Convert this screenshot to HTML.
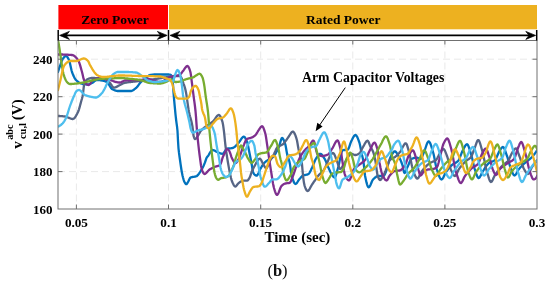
<!DOCTYPE html>
<html><head><meta charset="utf-8"><title>Arm Capacitor Voltages</title>
<style>html,body{margin:0;padding:0;background:#fff;}body{width:550px;height:284px;overflow:hidden;position:relative;font-family:"Liberation Serif",serif;}</style></head>
<body>
<svg width="550" height="284" viewBox="0 0 550 284" style="position:absolute;left:0;top:0;filter:blur(0.45px)">
<defs><clipPath id="pc"><rect x="58" y="40.5" width="479" height="168.5"/></clipPath></defs>
<rect x="58.4" y="5" width="109.6" height="24.3" fill="#ff0000"/>
<rect x="169" y="5" width="368" height="24.3" fill="#edb120"/>
<line x1="76.4" y1="40.5" x2="76.4" y2="209" stroke="#e9e9e9" stroke-width="1" stroke-dasharray="7,4"/>
<line x1="168.5" y1="40.5" x2="168.5" y2="209" stroke="#e9e9e9" stroke-width="1" stroke-dasharray="7,4"/>
<line x1="260.7" y1="40.5" x2="260.7" y2="209" stroke="#e9e9e9" stroke-width="1" stroke-dasharray="7,4"/>
<line x1="352.8" y1="40.5" x2="352.8" y2="209" stroke="#e9e9e9" stroke-width="1" stroke-dasharray="7,4"/>
<line x1="444.9" y1="40.5" x2="444.9" y2="209" stroke="#e9e9e9" stroke-width="1" stroke-dasharray="7,4"/>
<line x1="58" y1="171.6" x2="537" y2="171.6" stroke="#e9e9e9" stroke-width="1" stroke-dasharray="7,4"/>
<line x1="58" y1="134.1" x2="537" y2="134.1" stroke="#e9e9e9" stroke-width="1" stroke-dasharray="7,4"/>
<line x1="58" y1="96.7" x2="537" y2="96.7" stroke="#e9e9e9" stroke-width="1" stroke-dasharray="7,4"/>
<line x1="58" y1="59.2" x2="537" y2="59.2" stroke="#e9e9e9" stroke-width="1" stroke-dasharray="7,4"/>
<g clip-path="url(#pc)" fill="none" stroke-width="2.3" stroke-linejoin="round" stroke-linecap="round">
<path d="M58.0,72.0 L58.5,70.4 L59.0,68.9 L59.5,67.4 L60.0,66.0 L60.5,64.6 L61.0,63.1 L61.5,61.7 L62.0,60.4 L62.5,59.3 L63.0,58.5 L63.5,57.9 L64.0,57.3 L64.5,56.8 L65.0,56.4 L65.5,56.1 L66.0,56.0 L66.5,56.2 L67.0,56.6 L67.5,57.2 L68.0,58.1 L68.5,59.0 L69.0,60.0 L69.5,61.4 L70.0,63.4 L70.5,65.7 L71.0,68.1 L71.5,70.3 L72.0,72.0 L72.5,73.3 L73.0,74.6 L73.5,75.7 L74.0,76.8 L74.5,77.8 L75.0,78.6 L75.5,79.4 L76.0,80.0 L76.5,80.5 L77.0,81.0 L77.5,81.5 L78.0,81.8 L78.5,82.2 L79.0,82.5 L79.5,82.8 L80.0,83.0 L80.5,83.2 L81.0,83.4 L81.5,83.5 L82.0,83.7 L82.5,83.8 L83.0,84.0 L83.5,84.1 L84.0,84.2 L84.5,84.2 L85.0,84.3 L85.5,84.3 L86.0,84.4 L86.5,84.4 L87.0,84.5 L87.5,84.5 L88.0,84.5 L88.5,84.5 L89.0,84.4 L89.5,84.2 L90.0,84.0 L90.5,83.7 L91.0,83.5 L91.5,83.2 L92.0,83.0 L92.5,82.7 L93.0,82.4 L93.5,82.0 L94.0,81.6 L94.5,81.2 L95.0,80.8 L95.5,80.5 L96.0,80.2 L96.5,80.1 L97.0,80.0 L97.5,80.0 L98.0,80.0 L98.5,80.1 L99.0,80.1 L99.5,80.2 L100.0,80.2 L100.5,80.3 L101.0,80.4 L101.5,80.4 L102.0,80.5 L102.5,80.6 L103.0,80.7 L103.5,80.8 L104.0,80.9 L104.5,81.0 L105.0,81.2 L105.5,81.4 L106.0,81.6 L106.5,81.8 L107.0,82.0 L107.5,82.4 L108.0,83.0 L108.5,83.7 L109.0,84.6 L109.5,85.5 L110.0,86.4 L110.5,87.2 L111.0,88.0 L111.5,88.6 L112.0,89.0 L112.5,89.3 L113.0,89.5 L113.5,89.8 L114.0,90.0 L114.5,90.2 L115.0,90.4 L115.5,90.6 L116.0,90.7 L116.5,90.8 L117.0,90.9 L117.5,91.0 L118.0,91.0 L118.5,91.0 L119.0,91.0 L119.5,91.0 L120.0,91.0 L120.5,91.0 L121.0,91.0 L121.5,91.0 L122.0,91.0 L122.5,91.0 L123.0,91.0 L123.5,91.0 L124.0,91.0 L124.5,91.0 L125.0,91.0 L125.5,91.0 L126.0,91.0 L126.5,91.0 L127.0,91.0 L127.5,91.0 L128.0,91.0 L128.5,91.0 L129.0,91.0 L129.5,91.0 L130.0,91.0 L130.5,91.0 L131.0,91.0 L131.5,91.0 L132.0,90.8 L132.5,90.6 L133.0,90.3 L133.5,90.0 L134.0,89.6 L134.5,89.2 L135.0,88.8 L135.5,88.4 L136.0,88.0 L136.5,87.6 L137.0,87.0 L137.5,86.4 L138.0,85.8 L138.5,85.1 L139.0,84.4 L139.5,83.7 L140.0,83.1 L140.5,82.5 L141.0,82.0 L141.5,81.5 L142.0,81.1 L142.5,80.7 L143.0,80.3 L143.5,79.9 L144.0,79.5 L144.5,79.1 L145.0,78.8 L145.5,78.4 L146.0,78.0 L146.5,77.6 L147.0,77.1 L147.5,76.7 L148.0,76.2 L148.5,75.8 L149.0,75.4 L149.5,75.2 L150.0,75.0 L150.5,74.9 L151.0,74.8 L151.5,74.8 L152.0,74.7 L152.5,74.6 L153.0,74.6 L153.5,74.6 L154.0,74.5 L154.5,74.5 L155.0,74.5 L155.5,74.5 L156.0,74.5 L156.5,74.5 L157.0,74.5 L157.5,74.5 L158.0,74.5 L158.5,74.5 L159.0,74.5 L159.5,74.5 L160.0,74.5 L160.5,74.5 L161.0,74.5 L161.5,74.5 L162.0,74.5 L162.5,74.5 L163.0,74.5 L163.5,74.5 L164.0,74.5 L164.5,74.5 L165.0,74.5 L165.5,74.5 L166.0,74.5 L166.5,74.5 L167.0,74.5 L167.5,74.5 L168.0,74.5 L168.5,74.5 L169.0,74.6 L169.5,74.6 L170.0,74.7 L170.5,74.8 L171.0,75.0 L171.5,75.8 L172.0,77.6 L172.5,80.0 L173.0,84.9 L173.5,92.1 L174.0,98.3 L174.5,103.8 L175.0,109.2 L175.5,114.3 L176.0,119.0 L176.5,122.8 L177.0,126.3 L177.5,131.0 L178.0,140.7 L178.5,148.3 L179.0,152.9 L179.5,156.5 L180.0,160.0 L180.5,163.6 L181.0,167.0 L181.5,170.2 L182.0,173.1 L182.5,175.5 L183.0,177.5 L183.5,179.3 L184.0,180.9 L184.5,182.0 L185.0,182.9 L185.5,183.7 L186.0,184.2 L186.5,184.1 L187.0,183.6 L187.5,182.8 L188.0,182.0 L188.5,181.1 L189.0,180.0 L189.5,179.0 L190.0,178.1 L190.5,177.6 L191.0,177.4 L191.5,177.2 L192.0,177.1 L192.5,177.0 L193.0,176.9 L193.5,176.9 L194.0,176.8 L194.5,176.7 L195.0,176.6 L195.5,176.5 L196.0,176.3 L196.5,176.2 L197.0,175.9 L197.5,175.4 L198.0,174.9 L198.5,174.3 L199.0,173.6 L199.5,172.8 L200.0,172.1 L200.5,171.3 L201.0,170.5 L201.5,169.7 L202.0,168.8 L202.5,167.9 L203.0,166.9 L203.5,165.9 L204.0,164.8 L204.5,163.6 L205.0,162.4 L205.5,160.9 L206.0,159.3 L206.5,158.0 L207.0,157.2 L207.5,156.6 L208.0,156.0 L208.5,155.3 L209.0,154.4 L209.5,153.5 L210.0,152.6 L210.5,151.8 L211.0,151.0 L211.5,150.5 L212.0,150.1 L212.5,150.0 L213.0,150.1 L213.5,150.2 L214.0,150.4 L214.5,150.6 L215.0,150.8 L215.5,151.1 L216.0,151.4 L216.5,151.7 L217.0,152.0 L217.5,152.2 L218.0,152.4 L218.5,152.6 L219.0,152.8 L219.5,153.0 L220.0,153.2 L220.5,153.4 L221.0,153.6 L221.5,153.7 L222.0,153.8 L222.5,153.8 L223.0,153.6 L223.5,153.2 L224.0,152.6 L224.5,151.8 L225.0,151.0 L225.5,150.2 L226.0,149.5 L226.5,149.0 L227.0,148.7 L227.5,148.6 L228.0,148.5 L228.5,148.5 L229.0,148.4 L229.5,148.4 L230.0,148.3 L230.5,148.3 L231.0,148.3 L231.5,148.2 L232.0,148.1 L232.5,148.0 L233.0,147.9 L233.5,147.7 L234.0,147.3 L234.5,147.0 L235.0,146.6 L235.5,146.1 L236.0,145.7 L236.5,145.1 L237.0,144.6 L237.5,144.0 L238.0,143.5 L238.5,142.9 L239.0,142.4 L239.5,141.7 L240.0,141.0 L240.5,140.2 L241.0,139.4 L241.5,138.6 L242.0,138.0 L242.5,137.4 L243.0,137.0 L243.5,136.7 L244.0,136.7 L244.5,137.0 L245.0,137.6 L245.5,138.4 L246.0,139.4 L246.5,140.5 L247.0,141.7 L247.5,143.3 L248.0,145.4 L248.5,147.9 L249.0,150.5 L249.5,153.0 L250.0,155.4 L250.5,158.0 L251.0,160.6 L251.5,163.2 L252.0,166.0 L252.5,169.2 L253.0,171.8 L253.5,173.2 L254.0,173.9 L254.5,174.5 L255.0,175.0 L255.5,175.3 L256.0,175.6 L256.5,175.7 L257.0,175.6 L257.5,175.0 L258.0,174.2 L258.5,173.2 L259.0,172.0 L259.5,170.8 L260.0,169.7 L260.5,168.6 L261.0,167.8 L261.5,167.0 L262.0,166.2 L262.5,165.3 L263.0,164.6 L263.5,163.9 L264.0,163.2 L264.5,162.7 L265.0,162.2 L265.5,161.8 L266.0,161.4 L266.5,161.0 L267.0,160.7 L267.5,160.3 L268.0,160.0 L268.5,159.7 L269.0,159.4 L269.5,159.1 L270.0,158.9 L270.5,158.6 L271.0,158.4 L271.5,158.1 L272.0,157.8 L272.5,157.4 L273.0,156.9 L273.5,156.4 L274.0,155.8 L274.5,155.1 L275.0,154.4 L275.5,153.6 L276.0,152.7 L276.5,151.8 L277.0,150.9 L277.5,149.9 L278.0,148.9 L278.5,147.8 L279.0,146.8 L279.5,145.3 L280.0,143.5 L280.5,141.6 L281.0,139.9 L281.5,138.6 L282.0,138.0 L282.5,138.1 L283.0,138.7 L283.5,139.6 L284.0,140.7 L284.5,142.0 L285.0,143.5 L285.5,145.1 L286.0,147.7 L286.5,150.7 L287.0,153.6 L287.5,155.6 L288.0,157.2 L288.5,158.6 L289.0,160.1 L289.5,161.9 L290.0,164.4 L290.5,168.1 L291.0,172.1 L291.5,175.1 L292.0,176.9 L292.5,178.5 L293.0,180.0 L293.5,181.3 L294.0,182.4 L294.5,183.3 L295.0,183.8 L295.5,184.0 L296.0,183.8 L296.5,183.4 L297.0,182.8 L297.5,182.0 L298.0,181.2 L298.5,180.4 L299.0,179.7 L299.5,179.1 L300.0,178.5 L300.5,177.9 L301.0,177.2 L301.5,176.7 L302.0,176.2 L302.5,175.8 L303.0,175.5 L303.5,175.3 L304.0,175.2 L304.5,175.1 L305.0,175.0 L305.5,174.9 L306.0,174.8 L306.5,174.7 L307.0,174.6 L307.5,174.5 L308.0,174.3 L308.5,174.0 L309.0,173.5 L309.5,172.8 L310.0,171.9 L310.5,170.9 L311.0,169.9 L311.5,168.8 L312.0,167.8 L312.5,166.7 L313.0,165.5 L313.5,164.3 L314.0,163.0 L314.5,161.7 L315.0,160.5 L315.5,159.5 L316.0,158.7 L316.5,157.9 L317.0,157.1 L317.5,156.3 L318.0,155.6 L318.5,155.0 L319.0,154.4 L319.5,154.1 L320.0,153.8 L320.5,153.8 L321.0,154.0 L321.5,154.4 L322.0,154.9 L322.5,155.5 L323.0,156.3 L323.5,157.0 L324.0,157.9 L324.5,158.7 L325.0,159.5 L325.5,160.5 L326.0,161.6 L326.5,162.9 L327.0,164.2 L327.5,165.4 L328.0,166.7 L328.5,167.8 L329.0,168.9 L329.5,170.0 L330.0,171.1 L330.5,172.2 L331.0,173.2 L331.5,174.1 L332.0,175.0 L332.5,175.6 L333.0,176.3 L333.5,176.9 L334.0,177.3 L334.5,177.5 L335.0,177.2 L335.5,176.3 L336.0,174.9 L336.5,173.3 L337.0,171.5 L337.5,169.7 L338.0,168.0 L338.5,166.2 L339.0,164.0 L339.5,161.5 L340.0,159.0 L340.5,156.5 L341.0,154.3 L341.5,152.4 L342.0,151.0 L342.5,150.3 L343.0,150.2 L343.5,150.1 L344.0,150.0 L344.5,150.0 L345.0,150.0 L345.5,149.9 L346.0,149.9 L346.5,149.8 L347.0,149.8 L347.5,149.7 L348.0,149.4 L348.5,148.7 L349.0,147.6 L349.5,146.2 L350.0,144.7 L350.5,143.2 L351.0,141.8 L351.5,140.7 L352.0,139.8 L352.5,138.8 L353.0,137.8 L353.5,136.9 L354.0,136.1 L354.5,135.5 L355.0,135.1 L355.5,135.0 L356.0,135.3 L356.5,135.8 L357.0,136.6 L357.5,137.6 L358.0,138.8 L358.5,140.1 L359.0,141.5 L359.5,142.9 L360.0,145.0 L360.5,147.4 L361.0,150.0 L361.5,152.5 L362.0,154.9 L362.5,157.0 L363.0,159.3 L363.5,162.1 L364.0,166.1 L364.5,171.5 L365.0,175.5 L365.5,178.0 L366.0,180.3 L366.5,182.4 L367.0,184.3 L367.5,185.7 L368.0,186.7 L368.5,187.3 L369.0,187.2 L369.5,186.7 L370.0,185.9 L370.5,184.9 L371.0,183.7 L371.5,182.5 L372.0,181.3 L372.5,180.3 L373.0,179.5 L373.5,179.0 L374.0,178.5 L374.5,178.1 L375.0,177.6 L375.5,177.2 L376.0,176.9 L376.5,176.5 L377.0,176.3 L377.5,176.1 L378.0,176.0 L378.5,176.0 L379.0,176.0 L379.5,176.0 L380.0,176.0 L380.5,176.0 L381.0,176.0 L381.5,176.0 L382.0,176.0 L382.5,176.0 L383.0,176.0 L383.5,176.0 L384.0,175.7 L384.5,174.9 L385.0,173.9 L385.5,172.8 L386.0,171.6 L386.5,170.2 L387.0,168.3 L387.5,166.3 L388.0,164.4 L388.5,162.7 L389.0,161.2 L389.5,159.8 L390.0,158.5 L390.5,157.2 L391.0,156.1 L391.5,155.2 L392.0,154.4 L392.5,153.6 L393.0,152.8 L393.5,152.1 L394.0,151.6 L394.5,151.4 L395.0,151.3 L395.5,151.6 L396.0,152.1 L396.5,152.7 L397.0,153.5 L397.5,154.4 L398.0,155.3 L398.5,156.2 L399.0,157.1 L399.5,158.0 L400.0,159.0 L400.5,160.1 L401.0,161.3 L401.5,162.5 L402.0,163.9 L402.5,165.3 L403.0,167.3 L403.5,169.9 L404.0,172.1 L404.5,173.0 L405.0,172.7 L405.5,171.9 L406.0,170.8 L406.5,169.5 L407.0,168.2 L407.5,166.9 L408.0,165.9 L408.5,164.7 L409.0,163.5 L409.5,162.3 L410.0,161.1 L410.5,160.2 L411.0,159.4 L411.5,159.0 L412.0,158.8 L412.5,158.5 L413.0,158.3 L413.5,158.2 L414.0,158.0 L414.5,157.9 L415.0,157.8 L415.5,157.7 L416.0,157.6 L416.5,157.6 L417.0,157.6 L417.5,157.8 L418.0,158.0 L418.5,158.3 L419.0,158.5 L419.5,158.8 L420.0,158.9 L420.5,159.0 L421.0,158.7 L421.5,158.0 L422.0,157.0 L422.5,155.8 L423.0,154.5 L423.5,153.2 L424.0,152.0 L424.5,150.8 L425.0,149.5 L425.5,148.0 L426.0,146.5 L426.5,145.0 L427.0,143.7 L427.5,142.6 L428.0,141.8 L428.5,141.4 L429.0,141.5 L429.5,142.0 L430.0,142.8 L430.5,144.0 L431.0,145.4 L431.5,147.0 L432.0,148.7 L432.5,150.4 L433.0,152.0 L433.5,153.8 L434.0,156.1 L434.5,158.6 L435.0,161.2 L435.5,163.7 L436.0,166.2 L436.5,168.3 L437.0,170.0 L437.5,171.5 L438.0,172.9 L438.5,174.4 L439.0,175.7 L439.5,177.0 L440.0,178.0 L440.5,178.8 L441.0,179.3 L441.5,179.5 L442.0,179.3 L442.5,178.8 L443.0,178.0 L443.5,177.1 L444.0,176.0 L444.5,174.9 L445.0,173.8 L445.5,172.8 L446.0,172.0 L446.5,171.3 L447.0,170.6 L447.5,170.0 L448.0,169.3 L448.5,168.7 L449.0,168.1 L449.5,167.5 L450.0,167.0 L450.5,166.4 L451.0,165.9 L451.5,165.4 L452.0,165.0 L452.5,164.6 L453.0,164.3 L453.5,164.0 L454.0,163.7 L454.5,163.4 L455.0,163.1 L455.5,162.9 L456.0,162.6 L456.5,162.3 L457.0,161.9 L457.5,161.5 L458.0,161.0 L458.5,160.3 L459.0,159.5 L459.5,158.4 L460.0,157.2 L460.5,155.9 L461.0,154.6 L461.5,153.3 L462.0,152.1 L462.5,151.0 L463.0,150.0 L463.5,149.1 L464.0,148.1 L464.5,147.1 L465.0,146.2 L465.5,145.4 L466.0,144.8 L466.5,144.4 L467.0,144.2 L467.5,144.5 L468.0,145.2 L468.5,146.2 L469.0,147.6 L469.5,149.1 L470.0,150.8 L470.5,152.4 L471.0,154.0 L471.5,155.7 L472.0,157.7 L472.5,159.8 L473.0,162.1 L473.5,164.3 L474.0,166.5 L474.5,168.4 L475.0,170.0 L475.5,171.5 L476.0,173.0 L476.5,174.5 L477.0,175.8 L477.5,176.9 L478.0,177.6 L478.5,178.0 L479.0,177.9 L479.5,177.5 L480.0,176.8 L480.5,175.9 L481.0,174.9 L481.5,173.8 L482.0,172.8 L482.5,171.8 L483.0,171.0 L483.5,170.3 L484.0,169.5 L484.5,168.7 L485.0,168.0 L485.5,167.2 L486.0,166.5 L486.5,165.7 L487.0,165.1 L487.5,164.5 L488.0,163.9 L488.5,163.4 L489.0,163.0 L489.5,162.7 L490.0,162.4 L490.5,162.1 L491.0,161.9 L491.5,161.8 L492.0,161.6 L492.5,161.4 L493.0,161.2 L493.5,161.0 L494.0,160.7 L494.5,160.4 L495.0,160.0 L495.5,159.4 L496.0,158.6 L496.5,157.6 L497.0,156.4 L497.5,155.2 L498.0,154.0 L498.5,152.9 L499.0,151.8 L499.5,151.0 L500.0,150.3 L500.5,149.5 L501.0,148.7 L501.5,148.0 L502.0,147.5 L502.5,147.1 L503.0,147.0 L503.5,147.2 L504.0,147.9 L504.5,148.9 L505.0,150.2 L505.5,151.6 L506.0,153.1 L506.5,154.6 L507.0,156.0 L507.5,157.4 L508.0,159.1 L508.5,160.8 L509.0,162.7 L509.5,164.4 L510.0,166.1 L510.5,167.7 L511.0,169.0 L511.5,170.2 L512.0,171.5 L512.5,172.7 L513.0,173.8 L513.5,174.7 L514.0,175.3 L514.5,175.5 L515.0,175.3 L515.5,174.9 L516.0,174.2 L516.5,173.4 L517.0,172.4 L517.5,171.5 L518.0,170.5 L518.5,169.7 L519.0,169.0 L519.5,168.4 L520.0,167.8 L520.5,167.3 L521.0,166.8 L521.5,166.2 L522.0,165.7 L522.5,165.2 L523.0,164.7 L523.5,164.3 L524.0,163.8 L524.5,163.3 L525.0,162.9 L525.5,162.4 L526.0,162.0 L526.5,161.6 L527.0,161.2 L527.5,160.8 L528.0,160.4 L528.5,160.1 L529.0,159.7 L529.5,159.3 L530.0,158.9 L530.5,158.5 L531.0,158.0 L531.5,157.5 L532.0,157.0 L532.5,156.4 L533.0,155.8 L533.5,155.2 L534.0,154.6 L534.5,154.0 L535.0,153.3 L535.5,152.6 L536.0,151.9 L536.5,151.1 L537.0,150.4 L537.5,149.6" stroke="#0072BD"/>
<path d="M58.0,116.0 L58.5,116.0 L59.0,116.0 L59.5,116.0 L60.0,116.1 L60.5,116.1 L61.0,116.1 L61.5,116.1 L62.0,116.2 L62.5,116.2 L63.0,116.3 L63.5,116.3 L64.0,116.4 L64.5,116.4 L65.0,116.5 L65.5,116.6 L66.0,116.7 L66.5,116.9 L67.0,117.0 L67.5,117.2 L68.0,117.5 L68.5,117.7 L69.0,117.9 L69.5,118.1 L70.0,118.3 L70.5,118.5 L71.0,118.7 L71.5,118.8 L72.0,118.9 L72.5,119.0 L73.0,119.0 L73.5,118.8 L74.0,118.5 L74.5,118.0 L75.0,117.4 L75.5,116.6 L76.0,115.8 L76.5,114.9 L77.0,114.0 L77.5,113.0 L78.0,112.0 L78.5,110.8 L79.0,109.3 L79.5,107.6 L80.0,105.8 L80.5,103.9 L81.0,102.0 L81.5,100.3 L82.0,98.5 L82.5,96.5 L83.0,94.0 L83.5,89.2 L84.0,85.0 L84.5,83.6 L85.0,82.5 L85.5,81.5 L86.0,80.7 L86.5,80.1 L87.0,79.6 L87.5,79.3 L88.0,79.0 L88.5,78.8 L89.0,78.6 L89.5,78.4 L90.0,78.3 L90.5,78.2 L91.0,78.1 L91.5,78.0 L92.0,78.0 L92.5,78.0 L93.0,78.0 L93.5,78.0 L94.0,78.0 L94.5,78.0 L95.0,78.1 L95.5,78.1 L96.0,78.1 L96.5,78.1 L97.0,78.1 L97.5,78.2 L98.0,78.2 L98.5,78.2 L99.0,78.3 L99.5,78.3 L100.0,78.4 L100.5,78.4 L101.0,78.5 L101.5,78.5 L102.0,78.6 L102.5,78.6 L103.0,78.7 L103.5,78.8 L104.0,78.8 L104.5,78.9 L105.0,79.0 L105.5,79.1 L106.0,79.4 L106.5,79.7 L107.0,80.1 L107.5,80.5 L108.0,81.0 L108.5,81.5 L109.0,82.0 L109.5,82.5 L110.0,83.0 L110.5,83.6 L111.0,84.3 L111.5,85.0 L112.0,85.8 L112.5,86.5 L113.0,87.1 L113.5,87.5 L114.0,87.6 L114.5,87.6 L115.0,87.5 L115.5,87.3 L116.0,87.1 L116.5,86.9 L117.0,86.6 L117.5,86.4 L118.0,86.1 L118.5,85.8 L119.0,85.5 L119.5,85.2 L120.0,85.0 L120.5,84.7 L121.0,84.5 L121.5,84.2 L122.0,83.9 L122.5,83.6 L123.0,83.4 L123.5,83.2 L124.0,83.0 L124.5,82.9 L125.0,82.8 L125.5,82.7 L126.0,82.6 L126.5,82.5 L127.0,82.4 L127.5,82.3 L128.0,82.3 L128.5,82.2 L129.0,82.1 L129.5,82.1 L130.0,82.0 L130.5,82.0 L131.0,81.9 L131.5,81.9 L132.0,81.8 L132.5,81.8 L133.0,81.7 L133.5,81.7 L134.0,81.6 L134.5,81.6 L135.0,81.5 L135.5,81.4 L136.0,81.4 L136.5,81.3 L137.0,81.3 L137.5,81.2 L138.0,81.2 L138.5,81.1 L139.0,81.1 L139.5,81.0 L140.0,81.0 L140.5,81.0 L141.0,80.9 L141.5,80.9 L142.0,80.8 L142.5,80.8 L143.0,80.7 L143.5,80.7 L144.0,80.6 L144.5,80.6 L145.0,80.5 L145.5,80.4 L146.0,80.4 L146.5,80.3 L147.0,80.3 L147.5,80.2 L148.0,80.1 L148.5,80.1 L149.0,80.0 L149.5,79.9 L150.0,79.8 L150.5,79.8 L151.0,79.7 L151.5,79.6 L152.0,79.5 L152.5,79.5 L153.0,79.4 L153.5,79.3 L154.0,79.2 L154.5,79.2 L155.0,79.1 L155.5,79.0 L156.0,78.9 L156.5,78.8 L157.0,78.8 L157.5,78.7 L158.0,78.6 L158.5,78.5 L159.0,78.4 L159.5,78.3 L160.0,78.3 L160.5,78.2 L161.0,78.1 L161.5,78.0 L162.0,77.9 L162.5,77.9 L163.0,77.8 L163.5,77.7 L164.0,77.6 L164.5,77.5 L165.0,77.5 L165.5,77.4 L166.0,77.3 L166.5,77.2 L167.0,77.1 L167.5,77.1 L168.0,77.0 L168.5,76.9 L169.0,76.8 L169.5,76.7 L170.0,76.7 L170.5,76.6 L171.0,76.5 L171.5,76.4 L172.0,76.3 L172.5,76.2 L173.0,76.1 L173.5,76.1 L174.0,76.0 L174.5,76.0 L175.0,76.0 L175.5,76.0 L176.0,76.0 L176.5,76.0 L177.0,76.0 L177.5,76.0 L178.0,76.0 L178.5,76.0 L179.0,76.0 L179.5,76.0 L180.0,76.0 L180.5,76.2 L181.0,76.9 L181.5,77.9 L182.0,79.1 L182.5,80.5 L183.0,82.0 L183.5,83.6 L184.0,85.0 L184.5,86.4 L185.0,88.1 L185.5,90.0 L186.0,92.4 L186.5,95.4 L187.0,98.8 L187.5,102.4 L188.0,105.9 L188.5,109.2 L189.0,112.0 L189.5,114.3 L190.0,116.3 L190.5,118.1 L191.0,119.9 L191.5,121.9 L192.0,124.1 L192.5,126.8 L193.0,130.9 L193.5,135.6 L194.0,137.3 L194.5,138.6 L195.0,139.0 L195.5,138.9 L196.0,138.5 L196.5,137.9 L197.0,137.2 L197.5,136.5 L198.0,135.6 L198.5,134.8 L199.0,134.0 L199.5,133.1 L200.0,132.2 L200.5,131.3 L201.0,130.6 L201.5,130.1 L202.0,129.6 L202.5,129.1 L203.0,128.7 L203.5,128.3 L204.0,127.9 L204.5,127.5 L205.0,127.1 L205.5,126.8 L206.0,126.4 L206.5,126.1 L207.0,125.7 L207.5,125.4 L208.0,125.1 L208.5,124.8 L209.0,124.4 L209.5,124.1 L210.0,123.7 L210.5,123.4 L211.0,123.0 L211.5,122.6 L212.0,122.3 L212.5,121.8 L213.0,121.4 L213.5,120.9 L214.0,120.3 L214.5,119.6 L215.0,118.9 L215.5,118.1 L216.0,117.4 L216.5,116.7 L217.0,116.1 L217.5,115.6 L218.0,115.2 L218.5,115.0 L219.0,115.0 L219.5,115.3 L220.0,115.9 L220.5,116.7 L221.0,117.8 L221.5,119.1 L222.0,120.5 L222.5,122.0 L223.0,124.4 L223.5,127.8 L224.0,131.6 L224.5,136.4 L225.0,141.5 L225.5,146.0 L226.0,149.8 L226.5,153.3 L227.0,156.6 L227.5,159.7 L228.0,162.7 L228.5,165.6 L229.0,168.4 L229.5,171.1 L230.0,173.4 L230.5,175.8 L231.0,178.0 L231.5,179.9 L232.0,181.3 L232.5,182.5 L233.0,183.6 L233.5,184.6 L234.0,185.4 L234.5,186.1 L235.0,186.4 L235.5,186.5 L236.0,186.2 L236.5,185.7 L237.0,185.0 L237.5,184.3 L238.0,183.7 L238.5,183.2 L239.0,182.8 L239.5,182.4 L240.0,182.1 L240.5,181.8 L241.0,181.5 L241.5,181.2 L242.0,181.0 L242.5,180.8 L243.0,180.7 L243.5,180.7 L244.0,180.7 L244.5,180.7 L245.0,180.7 L245.5,180.7 L246.0,180.7 L246.5,180.7 L247.0,180.7 L247.5,180.5 L248.0,180.1 L248.5,179.5 L249.0,178.7 L249.5,177.8 L250.0,176.9 L250.5,175.4 L251.0,173.8 L251.5,172.3 L252.0,171.1 L252.5,169.9 L253.0,168.9 L253.5,167.9 L254.0,167.0 L254.5,166.2 L255.0,165.2 L255.5,164.3 L256.0,163.3 L256.5,162.4 L257.0,161.5 L257.5,160.7 L258.0,160.0 L258.5,159.4 L259.0,159.0 L259.5,158.7 L260.0,158.7 L260.5,159.1 L261.0,159.8 L261.5,160.7 L262.0,161.8 L262.5,162.8 L263.0,163.9 L263.5,164.7 L264.0,165.5 L264.5,166.4 L265.0,167.2 L265.5,167.9 L266.0,168.3 L266.5,168.2 L267.0,167.7 L267.5,166.8 L268.0,165.6 L268.5,164.3 L269.0,163.0 L269.5,161.8 L270.0,160.8 L270.5,160.0 L271.0,159.1 L271.5,158.3 L272.0,157.5 L272.5,156.7 L273.0,155.9 L273.5,155.0 L274.0,154.1 L274.5,153.1 L275.0,151.9 L275.5,150.8 L276.0,149.6 L276.5,148.6 L277.0,147.7 L277.5,147.1 L278.0,146.7 L278.5,146.4 L279.0,146.1 L279.5,145.9 L280.0,145.7 L280.5,145.5 L281.0,145.3 L281.5,145.1 L282.0,144.8 L282.5,144.5 L283.0,144.2 L283.5,143.7 L284.0,143.2 L284.5,142.5 L285.0,141.9 L285.5,141.2 L286.0,140.5 L286.5,139.8 L287.0,139.1 L287.5,138.4 L288.0,137.7 L288.5,137.0 L289.0,136.2 L289.5,135.4 L290.0,134.6 L290.5,133.8 L291.0,133.0 L291.5,132.4 L292.0,132.0 L292.5,131.7 L293.0,131.6 L293.5,131.9 L294.0,132.5 L294.5,133.3 L295.0,134.4 L295.5,135.7 L296.0,137.2 L296.5,138.7 L297.0,140.5 L297.5,143.2 L298.0,146.2 L298.5,149.0 L299.0,151.2 L299.5,153.1 L300.0,155.0 L300.5,156.9 L301.0,158.7 L301.5,161.0 L302.0,164.3 L302.5,170.0 L303.0,175.5 L303.5,179.6 L304.0,183.1 L304.5,185.3 L305.0,186.9 L305.5,188.2 L306.0,189.4 L306.5,190.2 L307.0,190.8 L307.5,191.0 L308.0,190.9 L308.5,190.5 L309.0,189.8 L309.5,189.1 L310.0,188.2 L310.5,187.3 L311.0,186.4 L311.5,185.5 L312.0,184.7 L312.5,184.0 L313.0,183.2 L313.5,182.5 L314.0,181.7 L314.5,181.0 L315.0,180.3 L315.5,179.5 L316.0,178.8 L316.5,178.0 L317.0,177.3 L317.5,176.6 L318.0,176.0 L318.5,175.4 L319.0,174.8 L319.5,174.3 L320.0,173.9 L320.5,173.5 L321.0,173.0 L321.5,172.6 L322.0,172.1 L322.5,171.6 L323.0,171.0 L323.5,170.4 L324.0,169.7 L324.5,168.8 L325.0,167.8 L325.5,166.8 L326.0,165.7 L326.5,164.5 L327.0,163.4 L327.5,162.2 L328.0,160.9 L328.5,159.5 L329.0,158.1 L329.5,156.9 L330.0,156.1 L330.5,155.3 L331.0,154.6 L331.5,154.0 L332.0,153.5 L332.5,153.1 L333.0,153.0 L333.5,153.2 L334.0,153.8 L334.5,154.7 L335.0,155.9 L335.5,157.2 L336.0,158.6 L336.5,160.1 L337.0,161.4 L337.5,162.7 L338.0,164.1 L338.5,165.8 L339.0,167.3 L339.5,168.5 L340.0,169.0 L340.5,168.9 L341.0,168.5 L341.5,167.9 L342.0,167.2 L342.5,166.4 L343.0,165.6 L343.5,164.8 L344.0,164.0 L344.5,163.2 L345.0,162.3 L345.5,161.4 L346.0,160.5 L346.5,159.6 L347.0,158.7 L347.5,157.9 L348.0,157.2 L348.5,156.4 L349.0,155.6 L349.5,154.9 L350.0,154.3 L350.5,153.9 L351.0,153.8 L351.5,153.8 L352.0,154.0 L352.5,154.1 L353.0,154.3 L353.5,154.5 L354.0,154.7 L354.5,154.9 L355.0,155.0 L355.5,155.0 L356.0,155.0 L356.5,154.8 L357.0,154.7 L357.5,154.5 L358.0,154.2 L358.5,153.9 L359.0,153.6 L359.5,153.3 L360.0,152.6 L360.5,151.8 L361.0,150.9 L361.5,149.9 L362.0,148.8 L362.5,147.9 L363.0,147.0 L363.5,146.2 L364.0,145.3 L364.5,144.3 L365.0,143.4 L365.5,142.6 L366.0,141.8 L366.5,141.2 L367.0,140.8 L367.5,140.7 L368.0,141.0 L368.5,141.8 L369.0,143.0 L369.5,144.3 L370.0,145.6 L370.5,146.8 L371.0,147.7 L371.5,148.6 L372.0,149.5 L372.5,150.4 L373.0,151.5 L373.5,152.9 L374.0,154.6 L374.5,156.8 L375.0,159.1 L375.5,161.6 L376.0,164.6 L376.5,168.4 L377.0,172.3 L377.5,175.2 L378.0,176.7 L378.5,178.0 L379.0,179.0 L379.5,179.7 L380.0,180.0 L380.5,179.9 L381.0,179.4 L381.5,178.8 L382.0,178.0 L382.5,177.1 L383.0,176.1 L383.5,175.1 L384.0,174.2 L384.5,173.2 L385.0,172.1 L385.5,170.9 L386.0,169.6 L386.5,168.3 L387.0,167.0 L387.5,165.7 L388.0,164.2 L388.5,162.8 L389.0,161.4 L389.5,160.5 L390.0,159.9 L390.5,159.5 L391.0,159.1 L391.5,158.8 L392.0,158.6 L392.5,158.3 L393.0,158.1 L393.5,157.9 L394.0,157.6 L394.5,157.3 L395.0,157.0 L395.5,156.6 L396.0,156.2 L396.5,155.7 L397.0,155.3 L397.5,154.8 L398.0,154.3 L398.5,153.7 L399.0,153.2 L399.5,152.6 L400.0,152.0 L400.5,151.3 L401.0,150.5 L401.5,149.6 L402.0,148.6 L402.5,147.6 L403.0,146.6 L403.5,145.7 L404.0,144.8 L404.5,144.1 L405.0,143.6 L405.5,143.3 L406.0,143.4 L406.5,144.0 L407.0,145.1 L407.5,146.6 L408.0,148.4 L408.5,150.2 L409.0,152.0 L409.5,153.9 L410.0,156.2 L410.5,158.7 L411.0,161.3 L411.5,163.9 L412.0,166.3 L412.5,168.3 L413.0,170.0 L413.5,171.4 L414.0,172.8 L414.5,174.2 L415.0,175.4 L415.5,176.6 L416.0,177.5 L416.5,178.2 L417.0,178.5 L417.5,178.6 L418.0,178.3 L418.5,177.7 L419.0,176.8 L419.5,175.9 L420.0,174.8 L420.5,173.7 L421.0,172.7 L421.5,171.7 L422.0,171.0 L422.5,170.4 L423.0,169.8 L423.5,169.2 L424.0,168.6 L424.5,168.0 L425.0,167.5 L425.5,166.9 L426.0,166.4 L426.5,165.9 L427.0,165.4 L427.5,165.0 L428.0,164.5 L428.5,164.1 L429.0,163.7 L429.5,163.3 L430.0,163.0 L430.5,162.7 L431.0,162.4 L431.5,162.2 L432.0,162.0 L432.5,161.8 L433.0,161.6 L433.5,161.4 L434.0,161.2 L434.5,161.0 L435.0,160.7 L435.5,160.4 L436.0,160.0 L436.5,159.5 L437.0,158.7 L437.5,157.8 L438.0,156.8 L438.5,155.8 L439.0,154.7 L439.5,153.8 L440.0,153.0 L440.5,152.3 L441.0,151.5 L441.5,150.7 L442.0,150.0 L442.5,149.4 L443.0,149.1 L443.5,149.0 L444.0,149.3 L444.5,150.0 L445.0,150.9 L445.5,152.1 L446.0,153.4 L446.5,154.7 L447.0,156.0 L447.5,157.4 L448.0,159.2 L448.5,161.1 L449.0,163.2 L449.5,165.2 L450.0,167.1 L450.5,168.7 L451.0,170.0 L451.5,171.1 L452.0,172.1 L452.5,173.1 L453.0,174.1 L453.5,174.8 L454.0,175.5 L454.5,175.9 L455.0,176.0 L455.5,175.8 L456.0,175.2 L456.5,174.3 L457.0,173.2 L457.5,172.0 L458.0,170.9 L458.5,169.8 L459.0,169.0 L459.5,168.3 L460.0,167.6 L460.5,167.0 L461.0,166.4 L461.5,165.7 L462.0,165.2 L462.5,164.6 L463.0,164.0 L463.5,163.5 L464.0,163.0 L464.5,162.5 L465.0,162.0 L465.5,161.5 L466.0,161.0 L466.5,160.6 L467.0,160.2 L467.5,159.8 L468.0,159.5 L468.5,159.2 L469.0,158.9 L469.5,158.5 L470.0,158.1 L470.5,157.6 L471.0,157.0 L471.5,156.2 L472.0,155.2 L472.5,153.9 L473.0,152.5 L473.5,151.1 L474.0,149.6 L474.5,148.3 L475.0,147.0 L475.5,145.7 L476.0,144.3 L476.5,142.8 L477.0,141.6 L477.5,140.6 L478.0,140.1 L478.5,140.1 L479.0,140.7 L479.5,141.8 L480.0,143.1 L480.5,144.8 L481.0,146.5 L481.5,148.3 L482.0,150.0 L482.5,151.8 L483.0,153.9 L483.5,156.2 L484.0,158.6 L484.5,161.1 L485.0,163.5 L485.5,166.0 L486.0,168.2 L486.5,170.3 L487.0,172.0 L487.5,173.6 L488.0,175.3 L488.5,177.0 L489.0,178.6 L489.5,179.9 L490.0,181.0 L490.5,181.7 L491.0,182.0 L491.5,181.8 L492.0,181.2 L492.5,180.3 L493.0,179.2 L493.5,178.1 L494.0,176.9 L494.5,175.9 L495.0,175.0 L495.5,174.3 L496.0,173.5 L496.5,172.8 L497.0,172.1 L497.5,171.4 L498.0,170.8 L498.5,170.1 L499.0,169.5 L499.5,168.9 L500.0,168.2 L500.5,167.7 L501.0,167.1 L501.5,166.5 L502.0,166.0 L502.5,165.5 L503.0,165.0 L503.5,164.6 L504.0,164.2 L504.5,163.8 L505.0,163.5 L505.5,163.1 L506.0,162.8 L506.5,162.4 L507.0,162.0 L507.5,161.5 L508.0,161.0 L508.5,160.3 L509.0,159.4 L509.5,158.3 L510.0,157.2 L510.5,156.0 L511.0,154.9 L511.5,153.9 L512.0,153.0 L512.5,152.2 L513.0,151.4 L513.5,150.6 L514.0,149.8 L514.5,149.2 L515.0,148.7 L515.5,148.4 L516.0,148.4 L516.5,148.9 L517.0,149.8 L517.5,151.0 L518.0,152.4 L518.5,153.7 L519.0,155.0 L519.5,156.3 L520.0,157.7 L520.5,159.2 L521.0,160.8 L521.5,162.4 L522.0,164.0 L522.5,165.5 L523.0,166.8 L523.5,168.0 L524.0,169.0 L524.5,169.9 L525.0,170.7 L525.5,171.6 L526.0,172.4 L526.5,173.0 L527.0,173.5 L527.5,173.9 L528.0,174.0 L528.5,173.8 L529.0,173.2 L529.5,172.3 L530.0,171.2 L530.5,170.1 L531.0,168.9 L531.5,167.9 L532.0,167.0 L532.5,166.3 L533.0,165.5 L533.5,164.8 L534.0,164.2 L534.5,163.5 L535.0,162.8 L535.5,162.2 L536.0,161.6 L536.5,161.1 L537.0,160.5 L537.5,160.0" stroke="#566585"/>
<path d="M58.0,54.5 L58.5,54.5 L59.0,54.5 L59.5,54.5 L60.0,54.5 L60.5,54.5 L61.0,54.5 L61.5,54.5 L62.0,54.5 L62.5,54.5 L63.0,54.6 L63.5,54.6 L64.0,54.6 L64.5,54.6 L65.0,54.6 L65.5,54.6 L66.0,54.7 L66.5,54.7 L67.0,54.7 L67.5,54.7 L68.0,54.7 L68.5,54.8 L69.0,54.8 L69.5,54.8 L70.0,54.9 L70.5,54.9 L71.0,54.9 L71.5,55.0 L72.0,55.0 L72.5,55.1 L73.0,55.2 L73.5,55.5 L74.0,55.8 L74.5,56.1 L75.0,56.5 L75.5,57.0 L76.0,57.5 L76.5,58.1 L77.0,58.7 L77.5,59.3 L78.0,60.0 L78.5,60.8 L79.0,62.0 L79.5,63.4 L80.0,64.9 L80.5,66.6 L81.0,68.4 L81.5,70.2 L82.0,72.0 L82.5,74.0 L83.0,76.3 L83.5,78.4 L84.0,80.0 L84.5,81.1 L85.0,82.1 L85.5,82.9 L86.0,83.6 L86.5,84.1 L87.0,84.5 L87.5,84.7 L88.0,84.9 L88.5,85.0 L89.0,84.8 L89.5,84.4 L90.0,83.8 L90.5,83.1 L91.0,82.3 L91.5,81.5 L92.0,80.9 L92.5,80.3 L93.0,80.0 L93.5,79.8 L94.0,79.6 L94.5,79.5 L95.0,79.3 L95.5,79.2 L96.0,79.0 L96.5,78.9 L97.0,78.8 L97.5,78.7 L98.0,78.6 L98.5,78.6 L99.0,78.5 L99.5,78.5 L100.0,78.5 L100.5,78.5 L101.0,78.5 L101.5,78.6 L102.0,78.6 L102.5,78.6 L103.0,78.7 L103.5,78.8 L104.0,78.8 L104.5,78.9 L105.0,79.0 L105.5,79.1 L106.0,79.2 L106.5,79.3 L107.0,79.4 L107.5,79.5 L108.0,79.6 L108.5,79.7 L109.0,79.8 L109.5,79.9 L110.0,80.0 L110.5,80.1 L111.0,80.3 L111.5,80.4 L112.0,80.6 L112.5,80.8 L113.0,81.0 L113.5,81.2 L114.0,81.4 L114.5,81.6 L115.0,81.8 L115.5,81.9 L116.0,82.0 L116.5,82.1 L117.0,82.2 L117.5,82.3 L118.0,82.3 L118.5,82.4 L119.0,82.5 L119.5,82.5 L120.0,82.5 L120.5,82.4 L121.0,82.3 L121.5,82.1 L122.0,81.8 L122.5,81.5 L123.0,81.3 L123.5,81.0 L124.0,80.8 L124.5,80.6 L125.0,80.5 L125.5,80.5 L126.0,80.4 L126.5,80.4 L127.0,80.4 L127.5,80.4 L128.0,80.3 L128.5,80.3 L129.0,80.3 L129.5,80.3 L130.0,80.3 L130.5,80.3 L131.0,80.2 L131.5,80.2 L132.0,80.2 L132.5,80.2 L133.0,80.2 L133.5,80.2 L134.0,80.2 L134.5,80.2 L135.0,80.2 L135.5,80.2 L136.0,80.2 L136.5,80.1 L137.0,80.1 L137.5,80.1 L138.0,80.1 L138.5,80.1 L139.0,80.1 L139.5,80.0 L140.0,80.0 L140.5,80.0 L141.0,79.9 L141.5,79.9 L142.0,79.8 L142.5,79.7 L143.0,79.6 L143.5,79.5 L144.0,79.4 L144.5,79.4 L145.0,79.3 L145.5,79.2 L146.0,79.1 L146.5,79.1 L147.0,79.0 L147.5,79.0 L148.0,79.0 L148.5,79.0 L149.0,79.1 L149.5,79.2 L150.0,79.3 L150.5,79.4 L151.0,79.6 L151.5,79.8 L152.0,80.0 L152.5,80.2 L153.0,80.4 L153.5,80.5 L154.0,80.7 L154.5,80.9 L155.0,81.0 L155.5,81.1 L156.0,81.3 L156.5,81.4 L157.0,81.5 L157.5,81.6 L158.0,81.8 L158.5,81.9 L159.0,81.9 L159.5,82.0 L160.0,82.0 L160.5,82.0 L161.0,81.9 L161.5,81.7 L162.0,81.5 L162.5,81.3 L163.0,81.0 L163.5,80.8 L164.0,80.5 L164.5,80.3 L165.0,80.0 L165.5,79.7 L166.0,79.4 L166.5,79.1 L167.0,78.7 L167.5,78.4 L168.0,78.0 L168.5,77.7 L169.0,77.4 L169.5,77.2 L170.0,77.0 L170.5,76.9 L171.0,76.8 L171.5,76.7 L172.0,76.6 L172.5,76.5 L173.0,76.4 L173.5,76.4 L174.0,76.3 L174.5,76.2 L175.0,76.1 L175.5,76.0 L176.0,75.9 L176.5,75.8 L177.0,75.7 L177.5,75.6 L178.0,75.4 L178.5,75.3 L179.0,75.1 L179.5,74.9 L180.0,74.6 L180.5,74.2 L181.0,73.7 L181.5,73.0 L182.0,72.3 L182.5,71.6 L183.0,71.0 L183.5,70.4 L184.0,69.7 L184.5,68.9 L185.0,68.2 L185.5,67.5 L186.0,66.9 L186.5,66.4 L187.0,66.1 L187.5,66.0 L188.0,66.2 L188.5,66.9 L189.0,67.9 L189.5,69.2 L190.0,70.7 L190.5,72.4 L191.0,75.5 L191.5,79.6 L192.0,83.5 L192.5,87.4 L193.0,91.3 L193.5,95.3 L194.0,99.1 L194.5,102.7 L195.0,106.5 L195.5,111.0 L196.0,116.9 L196.5,124.2 L197.0,131.0 L197.5,136.5 L198.0,141.4 L198.5,146.0 L199.0,150.3 L199.5,154.3 L200.0,158.0 L200.5,161.8 L201.0,165.5 L201.5,168.0 L202.0,169.6 L202.5,171.1 L203.0,172.3 L203.5,173.3 L204.0,173.8 L204.5,174.0 L205.0,173.9 L205.5,173.6 L206.0,173.2 L206.5,172.7 L207.0,172.1 L207.5,171.6 L208.0,171.0 L208.5,170.5 L209.0,170.0 L209.5,169.6 L210.0,169.3 L210.5,169.0 L211.0,168.7 L211.5,168.4 L212.0,168.2 L212.5,167.9 L213.0,167.7 L213.5,167.5 L214.0,167.2 L214.5,167.0 L215.0,166.8 L215.5,166.6 L216.0,166.5 L216.5,166.3 L217.0,166.2 L217.5,166.1 L218.0,166.0 L218.5,165.8 L219.0,165.6 L219.5,165.4 L220.0,164.9 L220.5,164.1 L221.0,163.0 L221.5,161.5 L222.0,159.6 L222.5,158.0 L223.0,156.7 L223.5,155.6 L224.0,154.5 L224.5,153.5 L225.0,152.5 L225.5,151.6 L226.0,150.5 L226.5,149.5 L227.0,149.0 L227.5,149.1 L228.0,149.5 L228.5,150.0 L229.0,150.5 L229.5,151.3 L230.0,152.6 L230.5,154.0 L231.0,155.6 L231.5,157.1 L232.0,158.4 L232.5,159.3 L233.0,160.2 L233.5,161.1 L234.0,161.8 L234.5,162.4 L235.0,162.8 L235.5,163.0 L236.0,162.9 L236.5,162.4 L237.0,161.8 L237.5,161.1 L238.0,160.2 L238.5,159.4 L239.0,158.4 L239.5,157.2 L240.0,155.7 L240.5,154.3 L241.0,152.9 L241.5,151.4 L242.0,149.9 L242.5,148.4 L243.0,147.0 L243.5,145.8 L244.0,144.6 L244.5,143.3 L245.0,142.2 L245.5,141.1 L246.0,140.1 L246.5,139.4 L247.0,139.0 L247.5,138.8 L248.0,138.6 L248.5,138.4 L249.0,138.3 L249.5,138.2 L250.0,138.1 L250.5,138.0 L251.0,137.8 L251.5,137.6 L252.0,137.4 L252.5,137.2 L253.0,136.9 L253.5,136.6 L254.0,136.3 L254.5,135.9 L255.0,135.5 L255.5,135.0 L256.0,134.4 L256.5,133.6 L257.0,132.8 L257.5,132.0 L258.0,131.1 L258.5,130.4 L259.0,129.7 L259.5,128.9 L260.0,128.2 L260.5,127.4 L261.0,126.8 L261.5,126.4 L262.0,126.2 L262.5,126.4 L263.0,127.1 L263.5,128.1 L264.0,129.4 L264.5,130.9 L265.0,132.5 L265.5,134.3 L266.0,137.0 L266.5,140.4 L267.0,143.8 L267.5,147.1 L268.0,150.6 L268.5,154.0 L269.0,157.5 L269.5,161.0 L270.0,164.4 L270.5,167.7 L271.0,170.9 L271.5,174.0 L272.0,177.2 L272.5,180.5 L273.0,183.5 L273.5,186.1 L274.0,188.0 L274.5,189.7 L275.0,191.3 L275.5,192.7 L276.0,193.9 L276.5,194.6 L277.0,194.9 L277.5,194.6 L278.0,193.9 L278.5,192.9 L279.0,191.7 L279.5,190.3 L280.0,189.0 L280.5,187.7 L281.0,186.7 L281.5,186.0 L282.0,185.5 L282.5,185.1 L283.0,184.7 L283.5,184.3 L284.0,184.0 L284.5,183.8 L285.0,183.6 L285.5,183.5 L286.0,183.4 L286.5,183.3 L287.0,183.2 L287.5,183.2 L288.0,183.1 L288.5,183.1 L289.0,183.0 L289.5,182.9 L290.0,182.6 L290.5,182.0 L291.0,181.0 L291.5,179.8 L292.0,178.4 L292.5,177.1 L293.0,175.8 L293.5,174.5 L294.0,173.1 L294.5,171.7 L295.0,170.2 L295.5,168.7 L296.0,167.2 L296.5,165.8 L297.0,164.5 L297.5,163.2 L298.0,162.0 L298.5,160.7 L299.0,159.5 L299.5,158.4 L300.0,157.3 L300.5,156.4 L301.0,155.5 L301.5,154.7 L302.0,153.9 L302.5,153.2 L303.0,152.5 L303.5,151.8 L304.0,151.2 L304.5,150.6 L305.0,150.0 L305.5,149.4 L306.0,148.9 L306.5,148.5 L307.0,148.0 L307.5,147.6 L308.0,147.1 L308.5,146.6 L309.0,146.1 L309.5,145.6 L310.0,144.9 L310.5,144.1 L311.0,143.2 L311.5,142.3 L312.0,141.5 L312.5,140.9 L313.0,140.6 L313.5,140.6 L314.0,141.4 L314.5,142.9 L315.0,144.9 L315.5,147.2 L316.0,149.4 L316.5,151.5 L317.0,153.2 L317.5,154.3 L318.0,154.7 L318.5,155.0 L319.0,155.2 L319.5,155.4 L320.0,155.6 L320.5,155.8 L321.0,155.9 L321.5,156.0 L322.0,156.0 L322.5,156.0 L323.0,156.0 L323.5,155.9 L324.0,155.8 L324.5,155.7 L325.0,155.6 L325.5,155.4 L326.0,155.3 L326.5,155.1 L327.0,154.9 L327.5,154.7 L328.0,154.5 L328.5,154.2 L329.0,153.7 L329.5,153.0 L330.0,152.2 L330.5,151.4 L331.0,150.5 L331.5,149.7 L332.0,148.8 L332.5,148.1 L333.0,147.2 L333.5,146.3 L334.0,145.3 L334.5,144.3 L335.0,143.3 L335.5,142.4 L336.0,141.6 L336.5,141.0 L337.0,140.6 L337.5,140.5 L338.0,140.8 L338.5,141.8 L339.0,143.2 L339.5,145.0 L340.0,147.0 L340.5,149.1 L341.0,151.5 L341.5,154.9 L342.0,158.6 L342.5,162.1 L343.0,165.0 L343.5,168.0 L344.0,170.8 L344.5,173.2 L345.0,175.0 L345.5,176.1 L346.0,177.1 L346.5,178.0 L347.0,178.8 L347.5,179.5 L348.0,180.0 L348.5,180.3 L349.0,180.4 L349.5,180.1 L350.0,179.4 L350.5,178.3 L351.0,177.0 L351.5,175.4 L352.0,173.9 L352.5,172.3 L353.0,171.0 L353.5,169.8 L354.0,169.0 L354.5,168.4 L355.0,167.9 L355.5,167.5 L356.0,167.1 L356.5,166.8 L357.0,166.4 L357.5,166.1 L358.0,165.7 L358.5,165.3 L359.0,164.9 L359.5,164.5 L360.0,164.2 L360.5,163.8 L361.0,163.5 L361.5,163.1 L362.0,162.8 L362.5,162.4 L363.0,162.0 L363.5,161.5 L364.0,161.1 L364.5,160.6 L365.0,160.0 L365.5,159.3 L366.0,158.5 L366.5,157.5 L367.0,156.5 L367.5,155.4 L368.0,154.3 L368.5,153.1 L369.0,152.0 L369.5,151.0 L370.0,150.0 L370.5,149.0 L371.0,148.0 L371.5,146.9 L372.0,145.8 L372.5,144.8 L373.0,143.9 L373.5,143.2 L374.0,142.8 L374.5,142.6 L375.0,142.9 L375.5,143.6 L376.0,144.8 L376.5,146.2 L377.0,147.8 L377.5,149.6 L378.0,152.0 L378.5,155.6 L379.0,159.5 L379.5,162.7 L380.0,165.2 L380.5,167.7 L381.0,169.9 L381.5,172.0 L382.0,173.7 L382.5,175.1 L383.0,176.1 L383.5,177.0 L384.0,177.9 L384.5,178.7 L385.0,179.4 L385.5,180.0 L386.0,180.3 L386.5,180.5 L387.0,180.3 L387.5,179.7 L388.0,178.8 L388.5,177.7 L389.0,176.6 L389.5,175.8 L390.0,175.1 L390.5,174.6 L391.0,174.0 L391.5,173.4 L392.0,172.9 L392.5,172.4 L393.0,172.0 L393.5,171.6 L394.0,171.3 L394.5,171.1 L395.0,171.0 L395.5,170.9 L396.0,170.8 L396.5,170.8 L397.0,170.7 L397.5,170.7 L398.0,170.7 L398.5,170.6 L399.0,170.6 L399.5,170.5 L400.0,170.4 L400.5,170.2 L401.0,169.9 L401.5,169.6 L402.0,169.1 L402.5,168.5 L403.0,167.9 L403.5,167.2 L404.0,166.5 L404.5,165.8 L405.0,165.0 L405.5,164.1 L406.0,162.9 L406.5,161.5 L407.0,160.1 L407.5,158.6 L408.0,157.2 L408.5,156.0 L409.0,155.0 L409.5,154.2 L410.0,153.3 L410.5,152.5 L411.0,151.7 L411.5,151.1 L412.0,150.6 L412.5,150.3 L413.0,150.3 L413.5,150.9 L414.0,151.8 L414.5,153.1 L415.0,154.7 L415.5,156.3 L416.0,158.0 L416.5,160.0 L417.0,162.6 L417.5,165.3 L418.0,167.9 L418.5,170.0 L419.0,171.8 L419.5,173.6 L420.0,175.0 L420.5,175.5 L421.0,175.3 L421.5,174.9 L422.0,174.2 L422.5,173.4 L423.0,172.7 L423.5,172.0 L424.0,171.5 L424.5,171.2 L425.0,170.8 L425.5,170.5 L426.0,170.2 L426.5,170.0 L427.0,169.8 L427.5,169.6 L428.0,169.5 L428.5,169.4 L429.0,169.4 L429.5,169.3 L430.0,169.3 L430.5,169.2 L431.0,169.2 L431.5,169.2 L432.0,169.1 L432.5,169.1 L433.0,169.0 L433.5,168.9 L434.0,168.8 L434.5,168.6 L435.0,168.4 L435.5,168.1 L436.0,167.8 L436.5,167.4 L437.0,167.0 L437.5,166.2 L438.0,164.8 L438.5,163.0 L439.0,161.0 L439.5,158.9 L440.0,157.0 L440.5,155.1 L441.0,153.0 L441.5,150.8 L442.0,148.7 L442.5,146.7 L443.0,145.0 L443.5,143.7 L444.0,142.7 L444.5,141.7 L445.0,140.8 L445.5,140.0 L446.0,139.3 L446.5,138.8 L447.0,138.5 L447.5,138.5 L448.0,139.0 L448.5,140.0 L449.0,141.3 L449.5,142.8 L450.0,144.5 L450.5,146.3 L451.0,148.0 L451.5,149.9 L452.0,152.1 L452.5,154.6 L453.0,157.3 L453.5,160.1 L454.0,162.9 L454.5,165.6 L455.0,168.1 L455.5,170.2 L456.0,172.0 L456.5,173.6 L457.0,175.2 L457.5,176.7 L458.0,178.2 L458.5,179.6 L459.0,180.8 L459.5,181.8 L460.0,182.5 L460.5,182.9 L461.0,183.0 L461.5,182.6 L462.0,181.9 L462.5,181.1 L463.0,180.0 L463.5,178.9 L464.0,177.8 L464.5,176.8 L465.0,176.0 L465.5,175.3 L466.0,174.6 L466.5,174.0 L467.0,173.3 L467.5,172.7 L468.0,172.1 L468.5,171.5 L469.0,171.0 L469.5,170.4 L470.0,169.9 L470.5,169.4 L471.0,168.9 L471.5,168.4 L472.0,168.0 L472.5,167.6 L473.0,167.3 L473.5,167.0 L474.0,166.7 L474.5,166.4 L475.0,166.2 L475.5,165.9 L476.0,165.6 L476.5,165.3 L477.0,164.9 L477.5,164.5 L478.0,164.0 L478.5,163.3 L479.0,162.2 L479.5,160.8 L480.0,159.4 L480.5,157.9 L481.0,156.4 L481.5,155.1 L482.0,154.0 L482.5,153.0 L483.0,152.1 L483.5,151.1 L484.0,150.2 L484.5,149.5 L485.0,148.9 L485.5,148.6 L486.0,148.6 L486.5,149.1 L487.0,150.1 L487.5,151.4 L488.0,152.9 L488.5,154.5 L489.0,156.0 L489.5,157.5 L490.0,159.3 L490.5,161.3 L491.0,163.3 L491.5,165.2 L492.0,167.1 L492.5,168.7 L493.0,170.0 L493.5,171.1 L494.0,172.3 L494.5,173.3 L495.0,174.2 L495.5,174.8 L496.0,175.0 L496.5,174.8 L497.0,174.3 L497.5,173.5 L498.0,172.5 L498.5,171.5 L499.0,170.5 L499.5,169.7 L500.0,169.0 L500.5,168.5 L501.0,168.0 L501.5,167.6 L502.0,167.2 L502.5,166.8 L503.0,166.4 L503.5,166.0 L504.0,165.7 L504.5,165.3 L505.0,165.0 L505.5,164.7 L506.0,164.3 L506.5,164.0 L507.0,163.7 L507.5,163.3 L508.0,163.0 L508.5,162.7 L509.0,162.4 L509.5,162.1 L510.0,161.8 L510.5,161.6 L511.0,161.3 L511.5,161.0 L512.0,160.7 L512.5,160.4 L513.0,160.0 L513.5,159.5 L514.0,159.0 L514.5,158.2 L515.0,157.1 L515.5,155.6 L516.0,154.0 L516.5,152.4 L517.0,150.8 L517.5,149.3 L518.0,148.0 L518.5,146.8 L519.0,145.6 L519.5,144.3 L520.0,143.3 L520.5,142.5 L521.0,142.0 L521.5,142.1 L522.0,142.7 L522.5,143.8 L523.0,145.2 L523.5,146.8 L524.0,148.6 L524.5,150.3 L525.0,152.0 L525.5,153.7 L526.0,155.7 L526.5,157.8 L527.0,160.0 L527.5,162.3 L528.0,164.5 L528.5,166.7 L529.0,168.7 L529.5,170.5 L530.0,172.0 L530.5,173.4 L531.0,174.8 L531.5,176.1 L532.0,177.4 L532.5,178.4 L533.0,179.1 L533.5,179.4 L534.0,179.4 L534.5,179.2 L535.0,179.0 L535.5,178.6 L536.0,178.0 L536.5,177.3 L537.0,176.3 L537.5,175.0" stroke="#7E2F8E"/>
<path d="M58.0,40.5 L58.5,42.8 L59.0,45.8 L59.5,48.8 L60.0,52.0 L60.5,55.4 L61.0,59.1 L61.5,62.7 L62.0,66.0 L62.5,69.0 L63.0,71.8 L63.5,74.0 L64.0,75.7 L64.5,77.2 L65.0,78.5 L65.5,79.6 L66.0,80.5 L66.5,81.3 L67.0,82.0 L67.5,82.6 L68.0,83.0 L68.5,83.4 L69.0,83.7 L69.5,83.9 L70.0,84.0 L70.5,84.0 L71.0,84.0 L71.5,84.0 L72.0,83.9 L72.5,83.9 L73.0,83.9 L73.5,83.8 L74.0,83.8 L74.5,83.7 L75.0,83.7 L75.5,83.7 L76.0,83.6 L76.5,83.6 L77.0,83.5 L77.5,83.4 L78.0,83.4 L78.5,83.3 L79.0,83.2 L79.5,83.2 L80.0,83.1 L80.5,83.0 L81.0,82.9 L81.5,82.8 L82.0,82.7 L82.5,82.7 L83.0,82.6 L83.5,82.5 L84.0,82.4 L84.5,82.3 L85.0,82.2 L85.5,82.1 L86.0,82.0 L86.5,81.9 L87.0,81.8 L87.5,81.6 L88.0,81.5 L88.5,81.4 L89.0,81.2 L89.5,81.1 L90.0,81.0 L90.5,80.8 L91.0,80.7 L91.5,80.6 L92.0,80.5 L92.5,80.4 L93.0,80.3 L93.5,80.2 L94.0,80.1 L94.5,79.9 L95.0,79.8 L95.5,79.7 L96.0,79.6 L96.5,79.5 L97.0,79.4 L97.5,79.3 L98.0,79.2 L98.5,79.2 L99.0,79.1 L99.5,79.0 L100.0,79.0 L100.5,79.0 L101.0,78.9 L101.5,78.9 L102.0,78.9 L102.5,78.8 L103.0,78.8 L103.5,78.8 L104.0,78.8 L104.5,78.7 L105.0,78.7 L105.5,78.7 L106.0,78.7 L106.5,78.7 L107.0,78.6 L107.5,78.6 L108.0,78.6 L108.5,78.6 L109.0,78.5 L109.5,78.5 L110.0,78.5 L110.5,78.5 L111.0,78.4 L111.5,78.4 L112.0,78.4 L112.5,78.4 L113.0,78.3 L113.5,78.3 L114.0,78.3 L114.5,78.2 L115.0,78.2 L115.5,78.2 L116.0,78.1 L116.5,78.1 L117.0,78.1 L117.5,78.1 L118.0,78.0 L118.5,78.0 L119.0,78.0 L119.5,78.0 L120.0,78.0 L120.5,78.0 L121.0,78.0 L121.5,78.0 L122.0,78.1 L122.5,78.1 L123.0,78.1 L123.5,78.1 L124.0,78.2 L124.5,78.2 L125.0,78.3 L125.5,78.3 L126.0,78.4 L126.5,78.4 L127.0,78.5 L127.5,78.5 L128.0,78.6 L128.5,78.6 L129.0,78.7 L129.5,78.8 L130.0,78.8 L130.5,78.8 L131.0,78.9 L131.5,78.9 L132.0,79.0 L132.5,79.0 L133.0,79.1 L133.5,79.1 L134.0,79.2 L134.5,79.3 L135.0,79.3 L135.5,79.4 L136.0,79.4 L136.5,79.5 L137.0,79.5 L137.5,79.6 L138.0,79.7 L138.5,79.8 L139.0,79.8 L139.5,79.9 L140.0,80.0 L140.5,80.1 L141.0,80.2 L141.5,80.4 L142.0,80.5 L142.5,80.7 L143.0,80.8 L143.5,81.0 L144.0,81.2 L144.5,81.4 L145.0,81.6 L145.5,81.8 L146.0,82.0 L146.5,82.2 L147.0,82.3 L147.5,82.5 L148.0,82.6 L148.5,82.8 L149.0,82.9 L149.5,82.9 L150.0,83.0 L150.5,83.0 L151.0,83.1 L151.5,83.1 L152.0,83.2 L152.5,83.2 L153.0,83.2 L153.5,83.3 L154.0,83.3 L154.5,83.3 L155.0,83.4 L155.5,83.4 L156.0,83.4 L156.5,83.4 L157.0,83.4 L157.5,83.5 L158.0,83.5 L158.5,83.5 L159.0,83.5 L159.5,83.5 L160.0,83.5 L160.5,83.5 L161.0,83.4 L161.5,83.4 L162.0,83.3 L162.5,83.1 L163.0,83.0 L163.5,82.9 L164.0,82.7 L164.5,82.5 L165.0,82.3 L165.5,82.2 L166.0,82.0 L166.5,81.8 L167.0,81.5 L167.5,81.2 L168.0,80.9 L168.5,80.5 L169.0,80.2 L169.5,79.9 L170.0,79.7 L170.5,79.6 L171.0,79.5 L171.5,79.6 L172.0,79.8 L172.5,80.1 L173.0,80.5 L173.5,80.9 L174.0,81.3 L174.5,81.6 L175.0,81.9 L175.5,82.0 L176.0,82.0 L176.5,82.0 L177.0,81.9 L177.5,81.9 L178.0,81.9 L178.5,81.8 L179.0,81.7 L179.5,81.6 L180.0,81.6 L180.5,81.5 L181.0,81.3 L181.5,81.1 L182.0,80.9 L182.5,80.7 L183.0,80.4 L183.5,80.2 L184.0,80.0 L184.5,79.8 L185.0,79.6 L185.5,79.5 L186.0,79.3 L186.5,79.1 L187.0,79.0 L187.5,78.8 L188.0,78.7 L188.5,78.6 L189.0,78.4 L189.5,78.3 L190.0,78.2 L190.5,78.1 L191.0,78.0 L191.5,77.9 L192.0,77.7 L192.5,77.6 L193.0,77.4 L193.5,77.2 L194.0,76.9 L194.5,76.6 L195.0,76.2 L195.5,75.8 L196.0,75.5 L196.5,75.2 L197.0,74.9 L197.5,74.6 L198.0,74.3 L198.5,74.0 L199.0,73.8 L199.5,73.7 L200.0,73.8 L200.5,74.2 L201.0,74.8 L201.5,75.6 L202.0,76.4 L202.5,77.4 L203.0,79.1 L203.5,81.3 L204.0,83.8 L204.5,86.9 L205.0,90.8 L205.5,94.8 L206.0,98.4 L206.5,101.5 L207.0,104.6 L207.5,108.0 L208.0,112.0 L208.5,117.7 L209.0,124.6 L209.5,131.0 L210.0,136.3 L210.5,141.3 L211.0,146.0 L211.5,150.5 L212.0,154.8 L212.5,158.8 L213.0,162.7 L213.5,166.5 L214.0,169.8 L214.5,172.5 L215.0,174.6 L215.5,176.3 L216.0,177.5 L216.5,178.3 L217.0,179.0 L217.5,179.5 L218.0,179.8 L218.5,179.8 L219.0,179.5 L219.5,179.2 L220.0,178.8 L220.5,178.4 L221.0,178.2 L221.5,178.1 L222.0,178.0 L222.5,177.9 L223.0,177.8 L223.5,177.8 L224.0,177.7 L224.5,177.6 L225.0,177.5 L225.5,177.4 L226.0,177.2 L226.5,177.1 L227.0,176.8 L227.5,176.6 L228.0,176.3 L228.5,176.0 L229.0,175.5 L229.5,174.6 L230.0,173.6 L230.5,172.5 L231.0,171.5 L231.5,170.5 L232.0,169.5 L232.5,168.4 L233.0,167.3 L233.5,166.0 L234.0,164.5 L234.5,162.7 L235.0,160.8 L235.5,159.0 L236.0,157.3 L236.5,155.8 L237.0,154.4 L237.5,153.0 L238.0,151.7 L238.5,150.5 L239.0,149.3 L239.5,147.9 L240.0,146.7 L240.5,145.8 L241.0,145.4 L241.5,145.7 L242.0,146.4 L242.5,147.4 L243.0,148.5 L243.5,149.3 L244.0,150.2 L244.5,151.1 L245.0,152.0 L245.5,153.0 L246.0,154.2 L246.5,155.3 L247.0,156.5 L247.5,157.5 L248.0,158.4 L248.5,159.2 L249.0,160.0 L249.5,160.9 L250.0,161.6 L250.5,162.2 L251.0,162.6 L251.5,162.8 L252.0,162.7 L252.5,162.4 L253.0,161.9 L253.5,161.3 L254.0,160.7 L254.5,160.0 L255.0,159.3 L255.5,158.6 L256.0,157.7 L256.5,156.8 L257.0,155.9 L257.5,155.1 L258.0,154.6 L258.5,154.3 L259.0,154.0 L259.5,153.8 L260.0,153.6 L260.5,153.5 L261.0,153.3 L261.5,153.2 L262.0,153.1 L262.5,153.0 L263.0,153.0 L263.5,152.9 L264.0,152.9 L264.5,152.8 L265.0,152.7 L265.5,152.7 L266.0,152.6 L266.5,152.4 L267.0,152.0 L267.5,151.5 L268.0,150.8 L268.5,150.1 L269.0,149.2 L269.5,148.4 L270.0,147.5 L270.5,146.7 L271.0,146.0 L271.5,145.1 L272.0,144.2 L272.5,143.2 L273.0,142.2 L273.5,141.3 L274.0,140.6 L274.5,140.2 L275.0,140.0 L275.5,140.3 L276.0,141.1 L276.5,142.3 L277.0,143.7 L277.5,145.4 L278.0,147.2 L278.5,149.0 L279.0,151.5 L279.5,154.4 L280.0,157.1 L280.5,159.2 L281.0,160.9 L281.5,162.7 L282.0,165.1 L282.5,168.0 L283.0,171.0 L283.5,173.6 L284.0,175.5 L284.5,176.9 L285.0,178.2 L285.5,179.4 L286.0,180.1 L286.5,180.4 L287.0,180.3 L287.5,179.9 L288.0,179.4 L288.5,178.7 L289.0,177.9 L289.5,177.0 L290.0,176.2 L290.5,175.3 L291.0,174.3 L291.5,173.1 L292.0,171.7 L292.5,170.3 L293.0,169.0 L293.5,167.8 L294.0,166.8 L294.5,166.1 L295.0,165.4 L295.5,164.8 L296.0,164.3 L296.5,163.8 L297.0,163.3 L297.5,162.8 L298.0,162.4 L298.5,162.1 L299.0,161.7 L299.5,161.4 L300.0,161.1 L300.5,160.9 L301.0,160.7 L301.5,160.5 L302.0,160.3 L302.5,160.1 L303.0,159.9 L303.5,159.6 L304.0,159.3 L304.5,158.9 L305.0,158.2 L305.5,157.3 L306.0,156.1 L306.5,154.9 L307.0,153.8 L307.5,152.7 L308.0,151.4 L308.5,150.1 L309.0,148.9 L309.5,147.9 L310.0,147.0 L310.5,146.3 L311.0,145.6 L311.5,144.9 L312.0,144.2 L312.5,143.7 L313.0,143.3 L313.5,143.1 L314.0,143.0 L314.5,143.6 L315.0,144.7 L315.5,146.4 L316.0,148.2 L316.5,150.2 L317.0,152.0 L317.5,153.8 L318.0,155.8 L318.5,157.9 L319.0,160.0 L319.5,162.3 L320.0,164.6 L320.5,167.3 L321.0,170.1 L321.5,172.7 L322.0,174.8 L322.5,176.5 L323.0,178.1 L323.5,179.6 L324.0,180.9 L324.5,182.0 L325.0,182.7 L325.5,183.0 L326.0,182.8 L326.5,182.4 L327.0,181.7 L327.5,181.0 L328.0,180.1 L328.5,179.3 L329.0,178.5 L329.5,177.7 L330.0,176.8 L330.5,175.8 L331.0,175.0 L331.5,174.2 L332.0,173.8 L332.5,173.5 L333.0,173.3 L333.5,173.1 L334.0,173.0 L334.5,172.8 L335.0,172.7 L335.5,172.6 L336.0,172.5 L336.5,172.4 L337.0,172.4 L337.5,172.3 L338.0,172.3 L338.5,172.3 L339.0,172.2 L339.5,172.2 L340.0,172.2 L340.5,172.1 L341.0,172.0 L341.5,171.7 L342.0,171.2 L342.5,170.5 L343.0,169.6 L343.5,168.6 L344.0,167.5 L344.5,166.1 L345.0,164.3 L345.5,162.3 L346.0,160.5 L346.5,159.0 L347.0,157.8 L347.5,156.7 L348.0,155.5 L348.5,154.5 L349.0,153.7 L349.5,153.0 L350.0,152.7 L350.5,152.7 L351.0,153.4 L351.5,154.7 L352.0,156.3 L352.5,158.0 L353.0,159.7 L353.5,161.7 L354.0,164.1 L354.5,166.3 L355.0,168.1 L355.5,169.1 L356.0,169.8 L356.5,170.5 L357.0,171.1 L357.5,171.5 L358.0,171.9 L358.5,172.2 L359.0,172.3 L359.5,172.3 L360.0,172.2 L360.5,172.0 L361.0,171.7 L361.5,171.3 L362.0,170.9 L362.5,170.4 L363.0,169.9 L363.5,169.5 L364.0,169.0 L364.5,168.5 L365.0,168.0 L365.5,167.5 L366.0,167.1 L366.5,166.6 L367.0,166.1 L367.5,165.5 L368.0,165.0 L368.5,164.4 L369.0,163.8 L369.5,163.2 L370.0,162.6 L370.5,162.0 L371.0,161.3 L371.5,160.7 L372.0,160.0 L372.5,159.3 L373.0,158.5 L373.5,157.7 L374.0,156.9 L374.5,156.0 L375.0,155.1 L375.5,154.2 L376.0,153.3 L376.5,152.4 L377.0,151.5 L377.5,150.6 L378.0,149.7 L378.5,148.7 L379.0,147.8 L379.5,146.8 L380.0,145.9 L380.5,145.0 L381.0,144.1 L381.5,143.2 L382.0,142.2 L382.5,141.1 L383.0,140.1 L383.5,139.1 L384.0,138.2 L384.5,137.4 L385.0,136.8 L385.5,136.4 L386.0,136.3 L386.5,136.5 L387.0,137.2 L387.5,138.1 L388.0,139.3 L388.5,140.8 L389.0,142.3 L389.5,143.9 L390.0,145.6 L390.5,148.1 L391.0,150.9 L391.5,153.8 L392.0,156.2 L392.5,157.9 L393.0,159.0 L393.5,159.9 L394.0,160.8 L394.5,161.9 L395.0,163.4 L395.5,165.5 L396.0,168.2 L396.5,171.0 L397.0,173.7 L397.5,175.9 L398.0,178.2 L398.5,180.5 L399.0,182.5 L399.5,183.9 L400.0,184.5 L400.5,184.4 L401.0,184.0 L401.5,183.5 L402.0,182.9 L402.5,182.2 L403.0,181.5 L403.5,180.8 L404.0,180.1 L404.5,179.4 L405.0,178.6 L405.5,177.8 L406.0,177.0 L406.5,176.2 L407.0,175.4 L407.5,174.7 L408.0,174.0 L408.5,173.4 L409.0,172.9 L409.5,172.4 L410.0,171.9 L410.5,171.5 L411.0,171.0 L411.5,170.6 L412.0,170.1 L412.5,169.6 L413.0,169.1 L413.5,168.6 L414.0,168.0 L414.5,167.4 L415.0,166.6 L415.5,165.9 L416.0,165.1 L416.5,164.3 L417.0,163.4 L417.5,162.6 L418.0,161.7 L418.5,160.9 L419.0,160.0 L419.5,159.1 L420.0,158.0 L420.5,156.8 L421.0,155.6 L421.5,154.4 L422.0,153.2 L422.5,152.2 L423.0,151.4 L423.5,150.7 L424.0,150.4 L424.5,150.3 L425.0,150.8 L425.5,151.6 L426.0,152.6 L426.5,153.9 L427.0,155.3 L427.5,156.7 L428.0,158.0 L428.5,159.3 L429.0,160.9 L429.5,162.5 L430.0,164.2 L430.5,165.9 L431.0,167.5 L431.5,168.9 L432.0,170.0 L432.5,171.0 L433.0,172.1 L433.5,173.1 L434.0,174.0 L434.5,174.8 L435.0,175.4 L435.5,175.9 L436.0,176.0 L436.5,175.8 L437.0,175.3 L437.5,174.6 L438.0,173.7 L438.5,172.7 L439.0,171.7 L439.5,170.8 L440.0,170.0 L440.5,169.3 L441.0,168.7 L441.5,168.1 L442.0,167.5 L442.5,166.8 L443.0,166.2 L443.5,165.7 L444.0,165.1 L444.5,164.5 L445.0,164.0 L445.5,163.5 L446.0,163.0 L446.5,162.5 L447.0,162.0 L447.5,161.6 L448.0,161.2 L448.5,160.8 L449.0,160.5 L449.5,160.2 L450.0,159.9 L450.5,159.5 L451.0,159.1 L451.5,158.6 L452.0,158.0 L452.5,157.2 L453.0,156.1 L453.5,154.8 L454.0,153.4 L454.5,152.0 L455.0,150.5 L455.5,149.2 L456.0,148.0 L456.5,146.9 L457.0,145.7 L457.5,144.5 L458.0,143.4 L458.5,142.3 L459.0,141.5 L459.5,141.0 L460.0,140.8 L460.5,141.1 L461.0,141.9 L461.5,143.1 L462.0,144.6 L462.5,146.4 L463.0,148.3 L463.5,150.2 L464.0,152.0 L464.5,154.0 L465.0,156.4 L465.5,159.1 L466.0,161.8 L466.5,164.5 L467.0,167.1 L467.5,169.3 L468.0,171.0 L468.5,172.5 L469.0,174.0 L469.5,175.4 L470.0,176.7 L470.5,177.8 L471.0,178.6 L471.5,179.2 L472.0,179.4 L472.5,179.2 L473.0,178.5 L473.5,177.6 L474.0,176.4 L474.5,175.2 L475.0,174.0 L475.5,172.9 L476.0,172.0 L476.5,171.3 L477.0,170.6 L477.5,169.9 L478.0,169.3 L478.5,168.7 L479.0,168.0 L479.5,167.5 L480.0,166.9 L480.5,166.3 L481.0,165.8 L481.5,165.3 L482.0,164.8 L482.5,164.3 L483.0,163.9 L483.5,163.4 L484.0,163.0 L484.5,162.6 L485.0,162.3 L485.5,162.0 L486.0,161.7 L486.5,161.4 L487.0,161.2 L487.5,160.9 L488.0,160.6 L488.5,160.3 L489.0,159.9 L489.5,159.5 L490.0,159.0 L490.5,158.3 L491.0,157.3 L491.5,156.2 L492.0,154.9 L492.5,153.6 L493.0,152.3 L493.5,151.0 L494.0,150.0 L494.5,149.0 L495.0,147.9 L495.5,146.9 L496.0,145.9 L496.5,145.1 L497.0,144.6 L497.5,144.5 L498.0,144.9 L498.5,145.9 L499.0,147.2 L499.5,148.8 L500.0,150.6 L500.5,152.3 L501.0,154.0 L501.5,155.7 L502.0,157.7 L502.5,159.8 L503.0,162.1 L503.5,164.3 L504.0,166.4 L504.5,168.3 L505.0,170.0 L505.5,171.6 L506.0,173.3 L506.5,174.9 L507.0,176.2 L507.5,177.2 L508.0,177.5 L508.5,177.3 L509.0,176.7 L509.5,175.9 L510.0,174.8 L510.5,173.8 L511.0,172.7 L511.5,171.7 L512.0,171.0 L512.5,170.4 L513.0,169.9 L513.5,169.3 L514.0,168.8 L514.5,168.3 L515.0,167.8 L515.5,167.4 L516.0,166.9 L516.5,166.5 L517.0,166.1 L517.5,165.7 L518.0,165.3 L518.5,164.9 L519.0,164.5 L519.5,164.1 L520.0,163.8 L520.5,163.4 L521.0,163.0 L521.5,162.6 L522.0,162.3 L522.5,162.0 L523.0,161.8 L523.5,161.5 L524.0,161.2 L524.5,160.9 L525.0,160.6 L525.5,160.3 L526.0,159.9 L526.5,159.5 L527.0,159.0 L527.5,158.3 L528.0,157.5 L528.5,156.4 L529.0,155.3 L529.5,154.1 L530.0,152.9 L530.5,151.9 L531.0,151.0 L531.5,150.2 L532.0,149.3 L532.5,148.4 L533.0,147.6 L533.5,146.9 L534.0,146.3 L534.5,145.9 L535.0,145.8 L535.5,146.0 L536.0,146.6 L536.5,147.5 L537.0,148.7 L537.5,150.0" stroke="#77AC30"/>
<path d="M58.0,126.5 L58.5,126.4 L59.0,126.2 L59.5,125.9 L60.0,125.6 L60.5,125.2 L61.0,124.9 L61.5,124.4 L62.0,124.0 L62.5,123.5 L63.0,122.9 L63.5,122.3 L64.0,121.6 L64.5,120.8 L65.0,119.9 L65.5,119.0 L66.0,118.0 L66.5,116.9 L67.0,115.5 L67.5,114.0 L68.0,112.4 L68.5,110.7 L69.0,109.0 L69.5,107.5 L70.0,106.0 L70.5,104.6 L71.0,103.3 L71.5,102.0 L72.0,100.7 L72.5,99.5 L73.0,98.3 L73.5,97.1 L74.0,96.0 L74.5,94.9 L75.0,93.7 L75.5,92.6 L76.0,91.7 L76.5,91.1 L77.0,90.7 L77.5,90.4 L78.0,90.2 L78.5,90.1 L79.0,90.0 L79.5,90.1 L80.0,90.3 L80.5,90.7 L81.0,91.1 L81.5,91.6 L82.0,92.2 L82.5,92.8 L83.0,93.3 L83.5,93.9 L84.0,94.3 L84.5,94.7 L85.0,95.0 L85.5,95.2 L86.0,95.4 L86.5,95.6 L87.0,95.8 L87.5,95.9 L88.0,96.1 L88.5,96.2 L89.0,96.4 L89.5,96.5 L90.0,96.6 L90.5,96.7 L91.0,96.8 L91.5,96.9 L92.0,97.0 L92.5,97.1 L93.0,97.2 L93.5,97.3 L94.0,97.3 L94.5,97.4 L95.0,97.5 L95.5,97.5 L96.0,97.5 L96.5,97.5 L97.0,97.3 L97.5,97.1 L98.0,96.8 L98.5,96.5 L99.0,96.0 L99.5,95.6 L100.0,95.1 L100.5,94.6 L101.0,94.1 L101.5,93.5 L102.0,93.0 L102.5,92.4 L103.0,91.7 L103.5,90.8 L104.0,89.9 L104.5,89.0 L105.0,87.9 L105.5,86.9 L106.0,85.8 L106.5,84.8 L107.0,83.8 L107.5,82.9 L108.0,82.0 L108.5,81.2 L109.0,80.3 L109.5,79.4 L110.0,78.5 L110.5,77.7 L111.0,76.9 L111.5,76.2 L112.0,75.5 L112.5,74.9 L113.0,74.5 L113.5,74.1 L114.0,73.8 L114.5,73.4 L115.0,73.1 L115.5,72.8 L116.0,72.5 L116.5,72.3 L117.0,72.1 L117.5,72.0 L118.0,72.0 L118.5,72.0 L119.0,72.0 L119.5,72.0 L120.0,72.0 L120.5,72.0 L121.0,72.0 L121.5,72.0 L122.0,72.0 L122.5,72.0 L123.0,72.0 L123.5,72.0 L124.0,72.0 L124.5,72.0 L125.0,72.0 L125.5,72.0 L126.0,72.0 L126.5,72.0 L127.0,72.0 L127.5,72.0 L128.0,72.0 L128.5,72.0 L129.0,72.1 L129.5,72.1 L130.0,72.1 L130.5,72.1 L131.0,72.1 L131.5,72.2 L132.0,72.2 L132.5,72.2 L133.0,72.3 L133.5,72.3 L134.0,72.3 L134.5,72.4 L135.0,72.4 L135.5,72.5 L136.0,72.5 L136.5,72.6 L137.0,72.7 L137.5,72.9 L138.0,73.2 L138.5,73.5 L139.0,73.8 L139.5,74.2 L140.0,74.6 L140.5,74.9 L141.0,75.3 L141.5,75.7 L142.0,76.0 L142.5,76.4 L143.0,76.7 L143.5,77.2 L144.0,77.6 L144.5,78.0 L145.0,78.5 L145.5,78.9 L146.0,79.3 L146.5,79.7 L147.0,80.0 L147.5,80.3 L148.0,80.5 L148.5,80.7 L149.0,80.8 L149.5,81.0 L150.0,81.1 L150.5,81.3 L151.0,81.4 L151.5,81.5 L152.0,81.7 L152.5,81.8 L153.0,81.8 L153.5,81.9 L154.0,82.0 L154.5,82.0 L155.0,82.0 L155.5,82.0 L156.0,82.0 L156.5,82.0 L157.0,81.9 L157.5,81.9 L158.0,81.9 L158.5,81.8 L159.0,81.8 L159.5,81.7 L160.0,81.7 L160.5,81.6 L161.0,81.6 L161.5,81.5 L162.0,81.4 L162.5,81.4 L163.0,81.3 L163.5,81.2 L164.0,81.2 L164.5,81.1 L165.0,81.0 L165.5,80.9 L166.0,80.8 L166.5,80.6 L167.0,80.4 L167.5,80.3 L168.0,80.1 L168.5,80.0 L169.0,80.0 L169.5,80.1 L170.0,80.2 L170.5,80.5 L171.0,80.8 L171.5,81.0 L172.0,81.3 L172.5,81.4 L173.0,81.5 L173.5,80.6 L174.0,78.7 L174.5,76.6 L175.0,75.1 L175.5,73.7 L176.0,72.4 L176.5,71.3 L177.0,70.4 L177.5,70.0 L178.0,70.2 L178.5,70.8 L179.0,71.8 L179.5,73.1 L180.0,74.6 L180.5,76.4 L181.0,79.1 L181.5,82.4 L182.0,86.1 L182.5,90.6 L183.0,95.0 L183.5,98.1 L184.0,100.6 L184.5,102.7 L185.0,104.7 L185.5,106.4 L186.0,108.2 L186.5,110.0 L187.0,112.0 L187.5,114.0 L188.0,116.1 L188.5,118.1 L189.0,120.2 L189.5,122.5 L190.0,125.2 L190.5,128.0 L191.0,129.6 L191.5,131.0 L192.0,132.1 L192.5,132.6 L193.0,132.7 L193.5,132.6 L194.0,132.4 L194.5,132.2 L195.0,131.9 L195.5,131.7 L196.0,131.4 L196.5,131.1 L197.0,130.8 L197.5,130.6 L198.0,130.4 L198.5,130.3 L199.0,130.2 L199.5,130.0 L200.0,129.9 L200.5,129.8 L201.0,129.7 L201.5,129.6 L202.0,129.5 L202.5,129.3 L203.0,129.2 L203.5,129.0 L204.0,128.9 L204.5,128.6 L205.0,128.4 L205.5,128.2 L206.0,127.9 L206.5,127.7 L207.0,127.4 L207.5,127.2 L208.0,127.0 L208.5,126.8 L209.0,126.6 L209.5,126.4 L210.0,126.2 L210.5,126.0 L211.0,126.0 L211.5,126.2 L212.0,126.7 L212.5,127.5 L213.0,128.6 L213.5,129.8 L214.0,131.2 L214.5,132.7 L215.0,134.8 L215.5,137.9 L216.0,141.3 L216.5,144.6 L217.0,147.5 L217.5,150.1 L218.0,152.7 L218.5,155.3 L219.0,158.0 L219.5,161.1 L220.0,164.4 L220.5,167.4 L221.0,169.6 L221.5,171.1 L222.0,172.4 L222.5,173.5 L223.0,174.3 L223.5,175.0 L224.0,175.5 L224.5,176.1 L225.0,176.5 L225.5,176.8 L226.0,177.0 L226.5,177.0 L227.0,176.8 L227.5,176.6 L228.0,176.3 L228.5,175.9 L229.0,175.5 L229.5,174.9 L230.0,174.1 L230.5,173.1 L231.0,172.0 L231.5,171.0 L232.0,169.9 L232.5,168.8 L233.0,167.6 L233.5,166.5 L234.0,165.4 L234.5,164.3 L235.0,163.3 L235.5,162.4 L236.0,161.8 L236.5,161.5 L237.0,161.2 L237.5,161.0 L238.0,160.8 L238.5,160.6 L239.0,160.4 L239.5,160.1 L240.0,159.8 L240.5,159.3 L241.0,158.8 L241.5,158.2 L242.0,157.5 L242.5,156.8 L243.0,156.0 L243.5,155.1 L244.0,154.1 L244.5,152.8 L245.0,151.5 L245.5,150.2 L246.0,149.0 L246.5,147.6 L247.0,146.3 L247.5,145.2 L248.0,144.4 L248.5,143.6 L249.0,142.9 L249.5,142.3 L250.0,141.7 L250.5,141.3 L251.0,140.9 L251.5,140.8 L252.0,140.9 L252.5,141.4 L253.0,142.2 L253.5,143.3 L254.0,144.6 L254.5,146.2 L255.0,149.4 L255.5,152.9 L256.0,155.3 L256.5,157.1 L257.0,159.0 L257.5,161.3 L258.0,163.7 L258.5,166.2 L259.0,168.8 L259.5,171.8 L260.0,174.6 L260.5,176.8 L261.0,178.5 L261.5,179.9 L262.0,181.3 L262.5,182.7 L263.0,184.0 L263.5,185.2 L264.0,186.1 L264.5,186.6 L265.0,186.7 L265.5,186.5 L266.0,186.2 L266.5,185.8 L267.0,185.2 L267.5,184.7 L268.0,184.1 L268.5,183.5 L269.0,183.0 L269.5,182.5 L270.0,181.8 L270.5,181.1 L271.0,180.5 L271.5,179.9 L272.0,179.5 L272.5,179.3 L273.0,179.3 L273.5,179.3 L274.0,179.3 L274.5,179.3 L275.0,179.3 L275.5,179.3 L276.0,179.3 L276.5,179.3 L277.0,179.2 L277.5,178.9 L278.0,178.6 L278.5,178.1 L279.0,177.6 L279.5,176.9 L280.0,176.3 L280.5,175.6 L281.0,174.9 L281.5,174.2 L282.0,173.5 L282.5,172.6 L283.0,171.7 L283.5,170.7 L284.0,169.6 L284.5,168.4 L285.0,167.2 L285.5,166.0 L286.0,164.3 L286.5,162.3 L287.0,160.2 L287.5,158.2 L288.0,156.6 L288.5,155.4 L289.0,155.0 L289.5,155.2 L290.0,155.6 L290.5,156.1 L291.0,156.8 L291.5,157.5 L292.0,158.1 L292.5,158.9 L293.0,159.8 L293.5,160.7 L294.0,161.6 L294.5,162.5 L295.0,163.3 L295.5,164.0 L296.0,164.7 L296.5,165.3 L297.0,165.9 L297.5,166.3 L298.0,166.5 L298.5,166.4 L299.0,166.0 L299.5,165.4 L300.0,164.6 L300.5,163.8 L301.0,162.9 L301.5,162.0 L302.0,161.1 L302.5,160.1 L303.0,158.8 L303.5,157.5 L304.0,156.1 L304.5,154.8 L305.0,153.6 L305.5,152.7 L306.0,151.9 L306.5,151.2 L307.0,150.5 L307.5,150.0 L308.0,149.5 L308.5,149.1 L309.0,148.7 L309.5,148.3 L310.0,148.0 L310.5,147.7 L311.0,147.4 L311.5,147.2 L312.0,147.0 L312.5,146.9 L313.0,146.8 L313.5,146.7 L314.0,146.7 L314.5,146.6 L315.0,146.5 L315.5,146.4 L316.0,146.2 L316.5,145.7 L317.0,144.9 L317.5,143.9 L318.0,142.8 L318.5,141.6 L319.0,140.5 L319.5,139.5 L320.0,138.6 L320.5,137.6 L321.0,136.6 L321.5,135.5 L322.0,134.6 L322.5,133.7 L323.0,133.0 L323.5,132.5 L324.0,132.3 L324.5,132.4 L325.0,132.9 L325.5,133.8 L326.0,134.9 L326.5,136.2 L327.0,137.7 L327.5,139.2 L328.0,140.8 L328.5,143.0 L329.0,145.7 L329.5,148.4 L330.0,151.0 L330.5,153.4 L331.0,155.9 L331.5,158.3 L332.0,160.7 L332.5,163.2 L333.0,165.6 L333.5,168.1 L334.0,170.5 L334.5,173.0 L335.0,175.5 L335.5,178.3 L336.0,181.2 L336.5,183.7 L337.0,185.2 L337.5,186.4 L338.0,187.4 L338.5,188.0 L339.0,188.3 L339.5,187.9 L340.0,186.8 L340.5,185.3 L341.0,183.7 L341.5,182.0 L342.0,180.6 L342.5,179.7 L343.0,179.3 L343.5,178.9 L344.0,178.7 L344.5,178.4 L345.0,178.2 L345.5,178.0 L346.0,177.8 L346.5,177.6 L347.0,177.4 L347.5,177.1 L348.0,176.8 L348.5,176.4 L349.0,176.0 L349.5,175.6 L350.0,175.2 L350.5,174.9 L351.0,174.5 L351.5,174.1 L352.0,173.7 L352.5,173.2 L353.0,172.7 L353.5,172.2 L354.0,171.6 L354.5,170.9 L355.0,170.0 L355.5,169.0 L356.0,167.8 L356.5,166.6 L357.0,165.3 L357.5,164.0 L358.0,162.7 L358.5,161.2 L359.0,159.4 L359.5,157.6 L360.0,156.1 L360.5,155.0 L361.0,154.3 L361.5,153.6 L362.0,153.0 L362.5,152.5 L363.0,152.2 L363.5,152.0 L364.0,152.1 L364.5,152.7 L365.0,153.5 L365.5,154.6 L366.0,155.8 L366.5,156.9 L367.0,158.1 L367.5,159.4 L368.0,161.0 L368.5,162.6 L369.0,164.2 L369.5,165.5 L370.0,166.5 L370.5,167.2 L371.0,167.9 L371.5,168.6 L372.0,169.1 L372.5,169.5 L373.0,169.7 L373.5,169.6 L374.0,169.2 L374.5,168.6 L375.0,167.7 L375.5,166.7 L376.0,165.7 L376.5,164.8 L377.0,164.0 L377.5,163.3 L378.0,162.5 L378.5,161.7 L379.0,161.0 L379.5,160.3 L380.0,159.7 L380.5,159.2 L381.0,158.9 L381.5,158.6 L382.0,158.4 L382.5,158.3 L383.0,158.1 L383.5,158.0 L384.0,157.8 L384.5,157.7 L385.0,157.5 L385.5,157.3 L386.0,157.0 L386.5,156.6 L387.0,156.1 L387.5,155.5 L388.0,154.9 L388.5,154.2 L389.0,153.4 L389.5,152.8 L390.0,152.1 L390.5,151.5 L391.0,150.9 L391.5,150.2 L392.0,149.3 L392.5,148.2 L393.0,147.0 L393.5,145.8 L394.0,144.8 L394.5,144.0 L395.0,143.4 L395.5,142.7 L396.0,142.1 L396.5,141.6 L397.0,141.2 L397.5,140.9 L398.0,140.7 L398.5,140.8 L399.0,141.3 L399.5,142.3 L400.0,143.6 L400.5,145.1 L401.0,146.7 L401.5,148.4 L402.0,150.0 L402.5,151.8 L403.0,154.0 L403.5,156.4 L404.0,159.0 L404.5,161.5 L405.0,164.0 L405.5,166.2 L406.0,168.0 L406.5,169.6 L407.0,171.3 L407.5,173.0 L408.0,174.6 L408.5,176.0 L409.0,177.2 L409.5,178.0 L410.0,178.5 L410.5,178.6 L411.0,178.3 L411.5,177.7 L412.0,176.9 L412.5,175.9 L413.0,174.9 L413.5,173.8 L414.0,172.7 L414.5,171.8 L415.0,171.0 L415.5,170.3 L416.0,169.6 L416.5,169.0 L417.0,168.3 L417.5,167.7 L418.0,167.0 L418.5,166.4 L419.0,165.8 L419.5,165.3 L420.0,164.7 L420.5,164.2 L421.0,163.8 L421.5,163.4 L422.0,163.0 L422.5,162.7 L423.0,162.4 L423.5,162.2 L424.0,162.0 L424.5,161.8 L425.0,161.6 L425.5,161.5 L426.0,161.2 L426.5,161.0 L427.0,160.7 L427.5,160.4 L428.0,160.0 L428.5,159.3 L429.0,158.3 L429.5,157.0 L430.0,155.5 L430.5,154.0 L431.0,152.5 L431.5,151.1 L432.0,150.0 L432.5,149.0 L433.0,147.9 L433.5,146.8 L434.0,145.8 L434.5,145.0 L435.0,144.4 L435.5,144.0 L436.0,144.1 L436.5,144.6 L437.0,145.4 L437.5,146.6 L438.0,147.9 L438.5,149.4 L439.0,151.0 L439.5,152.6 L440.0,154.0 L440.5,155.5 L441.0,157.2 L441.5,159.0 L442.0,161.0 L442.5,162.9 L443.0,164.9 L443.5,166.7 L444.0,168.4 L444.5,169.8 L445.0,171.0 L445.5,172.0 L446.0,173.1 L446.5,174.1 L447.0,175.1 L447.5,176.0 L448.0,176.7 L448.5,177.3 L449.0,177.8 L449.5,178.0 L450.0,177.9 L450.5,177.5 L451.0,176.9 L451.5,176.0 L452.0,175.0 L452.5,173.9 L453.0,172.8 L453.5,171.8 L454.0,171.0 L454.5,170.3 L455.0,169.6 L455.5,168.8 L456.0,168.1 L456.5,167.4 L457.0,166.8 L457.5,166.1 L458.0,165.4 L458.5,164.8 L459.0,164.2 L459.5,163.6 L460.0,163.0 L460.5,162.5 L461.0,162.0 L461.5,161.5 L462.0,161.1 L462.5,160.8 L463.0,160.4 L463.5,160.1 L464.0,159.8 L464.5,159.4 L465.0,159.0 L465.5,158.5 L466.0,158.0 L466.5,157.3 L467.0,156.3 L467.5,155.2 L468.0,154.1 L468.5,152.9 L469.0,151.8 L469.5,150.8 L470.0,150.0 L470.5,149.3 L471.0,148.6 L471.5,148.0 L472.0,147.5 L472.5,147.1 L473.0,147.0 L473.5,147.2 L474.0,147.9 L474.5,148.9 L475.0,150.1 L475.5,151.5 L476.0,153.1 L476.5,154.6 L477.0,156.0 L477.5,157.5 L478.0,159.3 L478.5,161.2 L479.0,163.2 L479.5,165.1 L480.0,167.0 L480.5,168.6 L481.0,170.0 L481.5,171.2 L482.0,172.5 L482.5,173.6 L483.0,174.6 L483.5,175.3 L484.0,175.5 L484.5,175.4 L485.0,175.0 L485.5,174.5 L486.0,173.8 L486.5,173.0 L487.0,172.1 L487.5,171.2 L488.0,170.4 L488.5,169.6 L489.0,169.0 L489.5,168.4 L490.0,167.9 L490.5,167.3 L491.0,166.8 L491.5,166.2 L492.0,165.7 L492.5,165.2 L493.0,164.7 L493.5,164.2 L494.0,163.7 L494.5,163.3 L495.0,162.8 L495.5,162.4 L496.0,162.0 L496.5,161.6 L497.0,161.3 L497.5,161.0 L498.0,160.8 L498.5,160.5 L499.0,160.2 L499.5,160.0 L500.0,159.7 L500.5,159.3 L501.0,159.0 L501.5,158.5 L502.0,158.0 L502.5,157.2 L503.0,156.1 L503.5,154.6 L504.0,153.0 L504.5,151.4 L505.0,149.7 L505.5,148.2 L506.0,147.0 L506.5,145.9 L507.0,144.6 L507.5,143.5 L508.0,142.4 L508.5,141.5 L509.0,140.9 L509.5,140.7 L510.0,141.0 L510.5,141.9 L511.0,143.2 L511.5,144.7 L512.0,146.5 L512.5,148.3 L513.0,150.0 L513.5,151.8 L514.0,153.9 L514.5,156.2 L515.0,158.6 L515.5,161.1 L516.0,163.6 L516.5,166.0 L517.0,168.2 L517.5,170.3 L518.0,172.0 L518.5,173.6 L519.0,175.3 L519.5,177.0 L520.0,178.6 L520.5,179.9 L521.0,181.0 L521.5,181.7 L522.0,182.0 L522.5,181.8 L523.0,181.2 L523.5,180.3 L524.0,179.3 L524.5,178.1 L525.0,177.0 L525.5,175.9 L526.0,175.0 L526.5,174.2 L527.0,173.4 L527.5,172.7 L528.0,171.9 L528.5,171.2 L529.0,170.4 L529.5,169.7 L530.0,169.0 L530.5,168.3 L531.0,167.6 L531.5,166.9 L532.0,166.3 L532.5,165.6 L533.0,165.0 L533.5,164.4 L534.0,163.8 L534.5,163.2 L535.0,162.6 L535.5,162.1 L536.0,161.5 L536.5,161.0 L537.0,160.5 L537.5,160.0" stroke="#4DBEEE"/>
<path d="M58.0,90.0 L58.5,88.0 L59.0,86.0 L59.5,84.0 L60.0,82.0 L60.5,79.9 L61.0,77.6 L61.5,75.2 L62.0,72.9 L62.5,70.7 L63.0,68.7 L63.5,67.1 L64.0,66.0 L64.5,65.2 L65.0,64.5 L65.5,63.9 L66.0,63.3 L66.5,62.9 L67.0,62.5 L67.5,62.1 L68.0,61.8 L68.5,61.5 L69.0,61.2 L69.5,61.1 L70.0,61.0 L70.5,61.0 L71.0,61.0 L71.5,61.0 L72.0,61.0 L72.5,61.0 L73.0,61.0 L73.5,61.0 L74.0,61.0 L74.5,61.0 L75.0,61.0 L75.5,61.0 L76.0,61.0 L76.5,61.0 L77.0,60.9 L77.5,60.8 L78.0,60.6 L78.5,60.4 L79.0,60.2 L79.5,60.0 L80.0,59.8 L80.5,59.5 L81.0,59.3 L81.5,59.1 L82.0,58.9 L82.5,58.7 L83.0,58.6 L83.5,58.5 L84.0,58.5 L84.5,58.6 L85.0,58.7 L85.5,58.9 L86.0,59.2 L86.5,59.6 L87.0,60.0 L87.5,60.5 L88.0,61.0 L88.5,61.7 L89.0,62.8 L89.5,64.0 L90.0,65.0 L90.5,65.9 L91.0,66.8 L91.5,67.7 L92.0,68.5 L92.5,69.4 L93.0,70.2 L93.5,71.0 L94.0,71.7 L94.5,72.4 L95.0,73.0 L95.5,73.6 L96.0,74.2 L96.5,74.6 L97.0,75.0 L97.5,75.3 L98.0,75.5 L98.5,75.8 L99.0,76.0 L99.5,76.2 L100.0,76.4 L100.5,76.6 L101.0,76.7 L101.5,76.8 L102.0,76.9 L102.5,77.0 L103.0,77.0 L103.5,77.0 L104.0,77.0 L104.5,77.0 L105.0,76.9 L105.5,76.9 L106.0,76.9 L106.5,76.8 L107.0,76.8 L107.5,76.7 L108.0,76.7 L108.5,76.6 L109.0,76.6 L109.5,76.5 L110.0,76.4 L110.5,76.4 L111.0,76.3 L111.5,76.2 L112.0,76.2 L112.5,76.1 L113.0,76.1 L113.5,76.0 L114.0,75.9 L114.5,75.9 L115.0,75.8 L115.5,75.8 L116.0,75.7 L116.5,75.7 L117.0,75.6 L117.5,75.6 L118.0,75.6 L118.5,75.5 L119.0,75.5 L119.5,75.5 L120.0,75.5 L120.5,75.5 L121.0,75.5 L121.5,75.5 L122.0,75.5 L122.5,75.5 L123.0,75.5 L123.5,75.5 L124.0,75.5 L124.5,75.5 L125.0,75.6 L125.5,75.6 L126.0,75.6 L126.5,75.6 L127.0,75.6 L127.5,75.6 L128.0,75.6 L128.5,75.6 L129.0,75.7 L129.5,75.7 L130.0,75.7 L130.5,75.7 L131.0,75.7 L131.5,75.7 L132.0,75.8 L132.5,75.8 L133.0,75.8 L133.5,75.8 L134.0,75.8 L134.5,75.8 L135.0,75.9 L135.5,75.9 L136.0,75.9 L136.5,75.9 L137.0,75.9 L137.5,75.9 L138.0,75.9 L138.5,76.0 L139.0,76.0 L139.5,76.0 L140.0,76.0 L140.5,76.0 L141.0,76.0 L141.5,76.0 L142.0,76.0 L142.5,76.1 L143.0,76.1 L143.5,76.1 L144.0,76.1 L144.5,76.1 L145.0,76.1 L145.5,76.1 L146.0,76.1 L146.5,76.1 L147.0,76.1 L147.5,76.1 L148.0,76.1 L148.5,76.1 L149.0,76.2 L149.5,76.2 L150.0,76.2 L150.5,76.2 L151.0,76.2 L151.5,76.2 L152.0,76.2 L152.5,76.2 L153.0,76.2 L153.5,76.2 L154.0,76.3 L154.5,76.3 L155.0,76.3 L155.5,76.3 L156.0,76.3 L156.5,76.3 L157.0,76.4 L157.5,76.4 L158.0,76.4 L158.5,76.4 L159.0,76.4 L159.5,76.5 L160.0,76.5 L160.5,76.5 L161.0,76.6 L161.5,76.8 L162.0,76.9 L162.5,77.1 L163.0,77.3 L163.5,77.4 L164.0,77.6 L164.5,77.8 L165.0,78.0 L165.5,78.2 L166.0,78.3 L166.5,78.5 L167.0,78.6 L167.5,78.8 L168.0,79.0 L168.5,79.2 L169.0,79.4 L169.5,79.7 L170.0,80.0 L170.5,80.5 L171.0,81.1 L171.5,82.0 L172.0,83.0 L172.5,84.5 L173.0,86.6 L173.5,88.8 L174.0,90.7 L174.5,92.7 L175.0,94.5 L175.5,96.1 L176.0,97.0 L176.5,97.5 L177.0,97.9 L177.5,98.2 L178.0,98.5 L178.5,98.6 L179.0,98.7 L179.5,98.7 L180.0,98.7 L180.5,98.7 L181.0,98.7 L181.5,98.7 L182.0,98.7 L182.5,98.7 L183.0,98.7 L183.5,98.7 L184.0,98.7 L184.5,98.7 L185.0,98.7 L185.5,98.7 L186.0,98.7 L186.5,98.6 L187.0,98.5 L187.5,98.2 L188.0,97.9 L188.5,97.5 L189.0,97.0 L189.5,96.0 L190.0,94.2 L190.5,92.3 L191.0,90.6 L191.5,89.7 L192.0,88.9 L192.5,88.2 L193.0,87.6 L193.5,87.0 L194.0,86.5 L194.5,86.2 L195.0,85.9 L195.5,85.8 L196.0,85.9 L196.5,86.3 L197.0,87.0 L197.5,87.8 L198.0,88.9 L198.5,90.0 L199.0,91.8 L199.5,94.4 L200.0,97.0 L200.5,99.3 L201.0,101.7 L201.5,104.8 L202.0,109.0 L202.5,111.0 L203.0,112.5 L203.5,113.7 L204.0,114.8 L204.5,116.0 L205.0,117.7 L205.5,120.5 L206.0,123.9 L206.5,126.0 L207.0,126.9 L207.5,127.6 L208.0,128.1 L208.5,128.4 L209.0,128.4 L209.5,128.1 L210.0,127.7 L210.5,127.1 L211.0,126.4 L211.5,125.7 L212.0,124.9 L212.5,124.2 L213.0,123.5 L213.5,123.0 L214.0,122.4 L214.5,121.8 L215.0,121.2 L215.5,120.7 L216.0,120.1 L216.5,119.6 L217.0,119.2 L217.5,118.9 L218.0,118.7 L218.5,118.5 L219.0,118.4 L219.5,118.3 L220.0,118.2 L220.5,118.2 L221.0,118.1 L221.5,118.0 L222.0,117.9 L222.5,117.7 L223.0,117.5 L223.5,117.1 L224.0,116.7 L224.5,116.2 L225.0,115.6 L225.5,115.0 L226.0,114.4 L226.5,113.8 L227.0,113.2 L227.5,112.5 L228.0,111.7 L228.5,110.9 L229.0,110.0 L229.5,109.3 L230.0,108.7 L230.5,108.4 L231.0,108.3 L231.5,108.7 L232.0,109.5 L232.5,110.6 L233.0,111.8 L233.5,113.2 L234.0,115.0 L234.5,117.5 L235.0,120.4 L235.5,123.6 L236.0,127.5 L236.5,132.0 L237.0,137.5 L237.5,142.6 L238.0,146.6 L238.5,150.4 L239.0,154.4 L239.5,158.6 L240.0,162.8 L240.5,167.6 L241.0,172.4 L241.5,176.1 L242.0,179.0 L242.5,181.8 L243.0,184.6 L243.5,187.3 L244.0,189.6 L244.5,191.3 L245.0,192.9 L245.5,194.4 L246.0,195.6 L246.5,196.4 L247.0,196.7 L247.5,196.4 L248.0,195.6 L248.5,194.5 L249.0,193.4 L249.5,192.3 L250.0,191.5 L250.5,190.7 L251.0,189.8 L251.5,189.0 L252.0,188.3 L252.5,187.6 L253.0,187.2 L253.5,187.0 L254.0,186.9 L254.5,186.8 L255.0,186.7 L255.5,186.7 L256.0,186.6 L256.5,186.6 L257.0,186.5 L257.5,186.5 L258.0,186.4 L258.5,186.3 L259.0,186.2 L259.5,185.9 L260.0,185.4 L260.5,184.8 L261.0,184.0 L261.5,183.2 L262.0,182.1 L262.5,180.7 L263.0,179.1 L263.5,177.5 L264.0,176.0 L264.5,174.5 L265.0,172.9 L265.5,171.4 L266.0,169.8 L266.5,168.3 L267.0,166.8 L267.5,165.3 L268.0,163.8 L268.5,162.3 L269.0,160.9 L269.5,159.8 L270.0,158.8 L270.5,158.0 L271.0,157.2 L271.5,156.5 L272.0,156.0 L272.5,155.8 L273.0,155.8 L273.5,155.9 L274.0,156.0 L274.5,156.2 L275.0,156.4 L275.5,157.2 L276.0,158.7 L276.5,160.6 L277.0,162.5 L277.5,163.8 L278.0,164.6 L278.5,165.3 L279.0,166.0 L279.5,166.5 L280.0,166.9 L280.5,167.2 L281.0,167.2 L281.5,167.0 L282.0,166.5 L282.5,165.9 L283.0,165.2 L283.5,164.4 L284.0,163.6 L284.5,162.7 L285.0,161.9 L285.5,161.2 L286.0,160.4 L286.5,159.4 L287.0,158.4 L287.5,157.5 L288.0,156.7 L288.5,156.1 L289.0,155.7 L289.5,155.5 L290.0,155.4 L290.5,155.2 L291.0,155.1 L291.5,155.1 L292.0,155.0 L292.5,154.9 L293.0,154.9 L293.5,154.8 L294.0,154.7 L294.5,154.6 L295.0,154.5 L295.5,154.3 L296.0,154.1 L296.5,153.8 L297.0,153.5 L297.5,153.1 L298.0,152.6 L298.5,152.2 L299.0,151.6 L299.5,151.1 L300.0,150.5 L300.5,149.8 L301.0,148.9 L301.5,147.9 L302.0,146.9 L302.5,146.0 L303.0,145.1 L303.5,144.1 L304.0,143.0 L304.5,142.0 L305.0,141.1 L305.5,140.5 L306.0,140.1 L306.5,140.1 L307.0,140.6 L307.5,141.6 L308.0,143.0 L308.5,144.6 L309.0,146.4 L309.5,148.2 L310.0,150.5 L310.5,153.3 L311.0,156.1 L311.5,158.4 L312.0,160.0 L312.5,161.5 L313.0,163.0 L313.5,164.8 L314.0,167.2 L314.5,170.0 L315.0,172.6 L315.5,174.6 L316.0,175.9 L316.5,177.0 L317.0,178.0 L317.5,178.8 L318.0,179.4 L318.5,179.8 L319.0,180.0 L319.5,179.7 L320.0,179.1 L320.5,178.1 L321.0,176.9 L321.5,175.7 L322.0,174.6 L322.5,173.6 L323.0,172.5 L323.5,171.4 L324.0,170.2 L324.5,169.1 L325.0,168.1 L325.5,167.2 L326.0,166.5 L326.5,166.0 L327.0,165.5 L327.5,165.0 L328.0,164.6 L328.5,164.3 L329.0,163.9 L329.5,163.6 L330.0,163.3 L330.5,163.0 L331.0,162.7 L331.5,162.4 L332.0,162.2 L332.5,162.0 L333.0,161.8 L333.5,161.6 L334.0,161.4 L334.5,161.2 L335.0,161.0 L335.5,160.7 L336.0,160.4 L336.5,159.9 L337.0,159.3 L337.5,158.5 L338.0,157.5 L338.5,156.5 L339.0,155.3 L339.5,154.2 L340.0,153.0 L340.5,151.6 L341.0,149.9 L341.5,148.0 L342.0,146.1 L342.5,144.3 L343.0,142.8 L343.5,141.8 L344.0,141.4 L344.5,142.0 L345.0,143.4 L345.5,145.5 L346.0,147.8 L346.5,150.0 L347.0,152.3 L347.5,155.0 L348.0,157.7 L348.5,160.4 L349.0,162.7 L349.5,164.7 L350.0,166.7 L350.5,168.6 L351.0,170.4 L351.5,172.0 L352.0,173.5 L352.5,174.8 L353.0,175.9 L353.5,177.0 L354.0,178.1 L354.5,179.1 L355.0,180.0 L355.5,180.7 L356.0,181.2 L356.5,181.4 L357.0,181.3 L357.5,181.0 L358.0,180.4 L358.5,179.7 L359.0,179.0 L359.5,178.2 L360.0,177.4 L360.5,176.7 L361.0,176.0 L361.5,175.2 L362.0,174.4 L362.5,173.6 L363.0,172.8 L363.5,172.2 L364.0,171.8 L364.5,171.5 L365.0,171.4 L365.5,171.3 L366.0,171.2 L366.5,171.1 L367.0,171.0 L367.5,171.0 L368.0,170.9 L368.5,170.9 L369.0,170.8 L369.5,170.7 L370.0,170.6 L370.5,170.4 L371.0,170.2 L371.5,170.0 L372.0,169.6 L372.5,169.2 L373.0,168.8 L373.5,168.2 L374.0,167.7 L374.5,167.0 L375.0,166.3 L375.5,165.6 L376.0,164.8 L376.5,163.6 L377.0,162.1 L377.5,160.5 L378.0,158.9 L378.5,157.4 L379.0,156.2 L379.5,154.9 L380.0,153.5 L380.5,152.4 L381.0,151.5 L381.5,151.2 L382.0,151.5 L382.5,152.2 L383.0,153.3 L383.5,154.7 L384.0,156.0 L384.5,157.4 L385.0,158.7 L385.5,160.2 L386.0,161.8 L386.5,163.6 L387.0,165.2 L387.5,166.7 L388.0,168.0 L388.5,169.0 L389.0,169.8 L389.5,170.5 L390.0,171.2 L390.5,171.7 L391.0,172.1 L391.5,172.3 L392.0,172.1 L392.5,171.4 L393.0,170.4 L393.5,169.1 L394.0,167.8 L394.5,166.5 L395.0,165.3 L395.5,164.2 L396.0,163.1 L396.5,161.9 L397.0,160.7 L397.5,159.7 L398.0,158.7 L398.5,158.0 L399.0,157.4 L399.5,156.9 L400.0,156.5 L400.5,156.1 L401.0,155.8 L401.5,155.5 L402.0,155.2 L402.5,155.0 L403.0,154.9 L403.5,154.7 L404.0,154.6 L404.5,154.6 L405.0,154.5 L405.5,154.4 L406.0,154.3 L406.5,154.2 L407.0,154.1 L407.5,153.9 L408.0,153.6 L408.5,153.1 L409.0,152.3 L409.5,151.4 L410.0,150.5 L410.5,149.7 L411.0,148.8 L411.5,147.9 L412.0,147.0 L412.5,146.0 L413.0,144.9 L413.5,143.6 L414.0,142.3 L414.5,140.9 L415.0,139.6 L415.5,138.6 L416.0,137.8 L416.5,137.5 L417.0,137.6 L417.5,138.2 L418.0,139.2 L418.5,140.4 L419.0,141.9 L419.5,143.5 L420.0,145.2 L420.5,147.0 L421.0,149.2 L421.5,152.1 L422.0,155.1 L422.5,157.8 L423.0,160.0 L423.5,162.2 L424.0,164.7 L424.5,167.3 L425.0,170.0 L425.5,172.6 L426.0,174.8 L426.5,176.5 L427.0,178.3 L427.5,180.0 L428.0,181.5 L428.5,182.7 L429.0,183.5 L429.5,183.7 L430.0,183.5 L430.5,183.1 L431.0,182.5 L431.5,181.8 L432.0,181.0 L432.5,180.3 L433.0,179.6 L433.5,178.9 L434.0,178.2 L434.5,177.3 L435.0,176.5 L435.5,175.7 L436.0,175.1 L436.5,174.5 L437.0,174.2 L437.5,174.0 L438.0,173.9 L438.5,173.7 L439.0,173.6 L439.5,173.6 L440.0,173.5 L440.5,173.4 L441.0,173.3 L441.5,173.2 L442.0,173.0 L442.5,172.8 L443.0,172.6 L443.5,172.3 L444.0,172.0 L444.5,171.7 L445.0,171.3 L445.5,170.9 L446.0,170.4 L446.5,169.8 L447.0,169.0 L447.5,168.1 L448.0,167.0 L448.5,165.8 L449.0,164.5 L449.5,163.2 L450.0,161.8 L450.5,160.1 L451.0,158.1 L451.5,156.2 L452.0,154.6 L452.5,153.3 L453.0,152.2 L453.5,151.1 L454.0,150.2 L454.5,149.5 L455.0,149.3 L455.5,149.5 L456.0,150.1 L456.5,150.9 L457.0,151.9 L457.5,153.0 L458.0,154.2 L458.5,155.2 L459.0,156.3 L459.5,157.5 L460.0,158.8 L460.5,160.2 L461.0,161.6 L461.5,163.0 L462.0,164.3 L462.5,165.5 L463.0,166.7 L463.5,168.1 L464.0,169.5 L464.5,170.8 L465.0,171.9 L465.5,172.7 L466.0,173.0 L466.5,172.9 L467.0,172.5 L467.5,172.0 L468.0,171.4 L468.5,170.6 L469.0,169.8 L469.5,169.0 L470.0,168.1 L470.5,167.3 L471.0,166.4 L471.5,165.4 L472.0,164.2 L472.5,163.1 L473.0,162.1 L473.5,161.3 L474.0,160.8 L474.5,160.4 L475.0,160.0 L475.5,159.6 L476.0,159.3 L476.5,159.0 L477.0,158.8 L477.5,158.6 L478.0,158.5 L478.5,158.4 L479.0,158.4 L479.5,158.3 L480.0,158.3 L480.5,158.2 L481.0,158.1 L481.5,158.0 L482.0,157.8 L482.5,157.4 L483.0,156.8 L483.5,156.1 L484.0,155.4 L484.5,154.6 L485.0,153.8 L485.5,153.0 L486.0,151.9 L486.5,150.5 L487.0,149.0 L487.5,147.4 L488.0,145.9 L488.5,144.4 L489.0,143.2 L489.5,142.2 L490.0,141.6 L490.5,141.4 L491.0,141.8 L491.5,142.7 L492.0,144.1 L492.5,145.8 L493.0,147.8 L493.5,149.9 L494.0,152.1 L494.5,154.3 L495.0,156.4 L495.5,158.4 L496.0,160.3 L496.5,162.4 L497.0,164.5 L497.5,166.5 L498.0,168.5 L498.5,170.5 L499.0,172.7 L499.5,174.7 L500.0,176.4 L500.5,177.5 L501.0,178.3 L501.5,178.9 L502.0,179.5 L502.5,179.9 L503.0,180.0 L503.5,179.9 L504.0,179.5 L504.5,179.0 L505.0,178.3 L505.5,177.5 L506.0,176.7 L506.5,175.8 L507.0,175.0 L507.5,174.1 L508.0,172.9 L508.5,171.7 L509.0,170.4 L509.5,169.3 L510.0,168.2 L510.5,167.5 L511.0,167.1 L511.5,166.7 L512.0,166.4 L512.5,166.1 L513.0,165.9 L513.5,165.7 L514.0,165.5 L514.5,165.3 L515.0,165.1 L515.5,164.8 L516.0,164.6 L516.5,164.4 L517.0,164.2 L517.5,164.0 L518.0,163.8 L518.5,163.7 L519.0,163.5 L519.5,163.2 L520.0,162.9 L520.5,162.6 L521.0,162.2 L521.5,161.5 L522.0,160.2 L522.5,158.8 L523.0,157.2 L523.5,155.8 L524.0,154.4 L524.5,152.8 L525.0,151.2 L525.5,149.5 L526.0,148.0 L526.5,146.6 L527.0,145.5 L527.5,144.8 L528.0,144.5 L528.5,144.7 L529.0,145.2 L529.5,146.0 L530.0,147.1 L530.5,148.4 L531.0,149.9 L531.5,151.4 L532.0,153.1 L532.5,154.8 L533.0,156.5 L533.5,158.1 L534.0,159.7 L534.5,161.6 L535.0,163.5 L535.5,165.6 L536.0,167.7 L536.5,169.7 L537.0,171.8 L537.5,174.0" stroke="#EDB120"/>
</g>
<rect x="58" y="40.5" width="479" height="168.5" fill="none" stroke="#707070" stroke-width="1"/>
<line x1="76.4" y1="209" x2="76.4" y2="204.5" stroke="#707070"/>
<line x1="76.4" y1="40.5" x2="76.4" y2="44.5" stroke="#707070"/>
<line x1="168.5" y1="209" x2="168.5" y2="204.5" stroke="#707070"/>
<line x1="168.5" y1="40.5" x2="168.5" y2="44.5" stroke="#707070"/>
<line x1="260.7" y1="209" x2="260.7" y2="204.5" stroke="#707070"/>
<line x1="260.7" y1="40.5" x2="260.7" y2="44.5" stroke="#707070"/>
<line x1="352.8" y1="209" x2="352.8" y2="204.5" stroke="#707070"/>
<line x1="352.8" y1="40.5" x2="352.8" y2="44.5" stroke="#707070"/>
<line x1="444.9" y1="209" x2="444.9" y2="204.5" stroke="#707070"/>
<line x1="444.9" y1="40.5" x2="444.9" y2="44.5" stroke="#707070"/>
<line x1="58" y1="171.6" x2="62.5" y2="171.6" stroke="#707070"/>
<line x1="537" y1="171.6" x2="532.5" y2="171.6" stroke="#707070"/>
<line x1="58" y1="134.1" x2="62.5" y2="134.1" stroke="#707070"/>
<line x1="537" y1="134.1" x2="532.5" y2="134.1" stroke="#707070"/>
<line x1="58" y1="96.7" x2="62.5" y2="96.7" stroke="#707070"/>
<line x1="537" y1="96.7" x2="532.5" y2="96.7" stroke="#707070"/>
<line x1="58" y1="59.2" x2="62.5" y2="59.2" stroke="#707070"/>
<line x1="537" y1="59.2" x2="532.5" y2="59.2" stroke="#707070"/>
<line x1="58.2" y1="30" x2="58.2" y2="40.5" stroke="#000" stroke-width="1.5"/>
<line x1="168.5" y1="30" x2="168.5" y2="40.5" stroke="#000" stroke-width="1.5"/>
<line x1="536.7" y1="30" x2="536.7" y2="40.5" stroke="#000" stroke-width="1.5"/>
<line x1="63" y1="35.4" x2="163" y2="35.4" stroke="#000" stroke-width="1.8"/>
<path d="M59.6,35.4 L69.4,31.4 L66.2,35.4 L69.4,39.4 Z" fill="#000" stroke="#000" stroke-width="0.7" stroke-linejoin="miter"/>
<path d="M167.2,35.4 L157.39999999999998,31.4 L160.6,35.4 L157.39999999999998,39.4 Z" fill="#000" stroke="#000" stroke-width="0.7" stroke-linejoin="miter"/>
<line x1="175" y1="35.4" x2="530" y2="35.4" stroke="#000" stroke-width="1.8"/>
<path d="M170,35.4 L179.8,31.4 L176.6,35.4 L179.8,39.4 Z" fill="#000" stroke="#000" stroke-width="0.7" stroke-linejoin="miter"/>
<path d="M535.6,35.4 L525.8000000000001,31.4 L529.0,35.4 L525.8000000000001,39.4 Z" fill="#000" stroke="#000" stroke-width="0.7" stroke-linejoin="miter"/>
<line x1="345.3" y1="87.6" x2="318" y2="127.5" stroke="#000" stroke-width="1"/>
<path d="M315.6,131.3 L317.3,122.8 L322.6,126.4 Z" fill="#000"/>
<g font-family="'Liberation Serif', serif" font-weight="bold" fill="#000">
<text x="115" y="23.6" font-size="13.5" text-anchor="middle" >Zero Power</text>
<text x="343.2" y="23.6" font-size="13.5" text-anchor="middle" >Rated Power</text>
<text x="373.2" y="81.5" font-size="13.8" text-anchor="middle" >Arm Capacitor Voltages</text>
<text x="52.6" y="213.6" font-size="13" text-anchor="end" >160</text>
<text x="52.6" y="176.15555555555557" font-size="13" text-anchor="end" >180</text>
<text x="52.6" y="138.7111111111111" font-size="13" text-anchor="end" >200</text>
<text x="52.6" y="101.26666666666665" font-size="13" text-anchor="end" >220</text>
<text x="52.6" y="63.82222222222222" font-size="13" text-anchor="end" >240</text>
<text x="76.42307692307693" y="226.5" font-size="13.2" text-anchor="middle" >0.05</text>
<text x="168.53846153846155" y="226.5" font-size="13.2" text-anchor="middle" >0.1</text>
<text x="260.65384615384613" y="226.5" font-size="13.2" text-anchor="middle" >0.15</text>
<text x="352.7692307692308" y="226.5" font-size="13.2" text-anchor="middle" >0.2</text>
<text x="444.88461538461536" y="226.5" font-size="13.2" text-anchor="middle" >0.25</text>
<text x="537.0" y="226.5" font-size="13.2" text-anchor="middle" >0.3</text>
<text x="297.4" y="242.3" font-size="15" text-anchor="middle" >Time (sec)</text>
<g transform="translate(21.5,148.8) rotate(-90)"><text x="0" y="0" font-size="15">v<tspan font-size="10.3" dx="1.5" dy="-8.7">abc</tspan><tspan font-size="10.4" dx="-14.65" dy="13.2">cu,l</tspan><tspan font-size="15" dy="-4.5" dx="-0.8"> (V)</tspan></text></g>
</g>
<text x="277.5" y="276" font-family="'Liberation Serif', serif" font-size="16.5" text-anchor="middle" fill="#111">(<tspan font-weight="bold">b</tspan>)</text>
</svg>
</body></html>
